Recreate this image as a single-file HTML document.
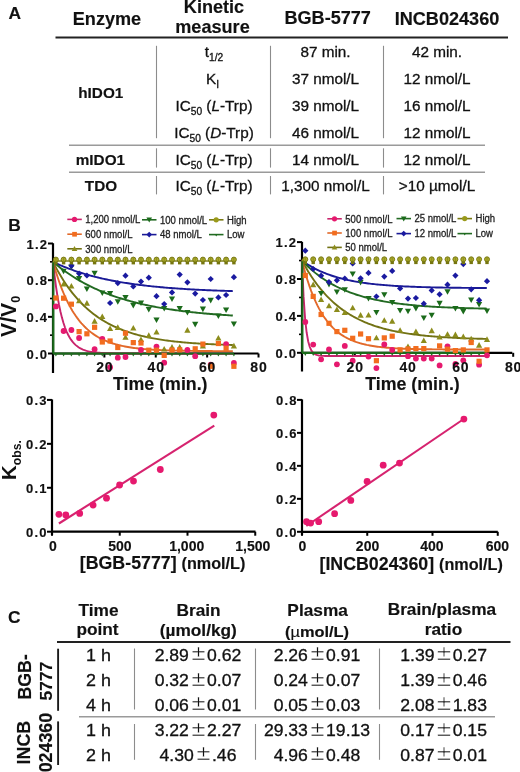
<!DOCTYPE html>
<html><head><meta charset="utf-8"><title>Figure</title>
<style>
html,body{margin:0;padding:0;background:#fff;}
svg{display:block;font-family:"Liberation Sans", sans-serif;}
</style></head>
<body>
<svg width="520" height="772" viewBox="0 0 520 772">
<rect width="520" height="772" fill="#fff"/>
<text x="8.6" y="18.5" font-size="17.4" font-weight="bold" fill="#111" stroke="#111" stroke-width="0.15">A</text>
<text x="107" y="24.8" font-size="18.1" font-weight="bold" text-anchor="middle" fill="#111" stroke="#111" stroke-width="0.15">Enzyme</text>
<text x="214" y="12.7" font-size="18.1" font-weight="bold" text-anchor="middle" fill="#111" stroke="#111" stroke-width="0.15">Kinetic</text>
<text x="212.5" y="33.1" font-size="18.1" font-weight="bold" text-anchor="middle" fill="#111" stroke="#111" stroke-width="0.15">measure</text>
<text x="327.7" y="24.4" font-size="18.1" font-weight="bold" text-anchor="middle" fill="#111" stroke="#111" stroke-width="0.15">BGB-5777</text>
<text x="447" y="24.8" font-size="18.1" font-weight="bold" text-anchor="middle" fill="#111" stroke="#111" stroke-width="0.15">INCB024360</text>
<line x1="55.5" y1="37.6" x2="508" y2="37.6" stroke="#222" stroke-width="2"/>
<text x="214" y="56.9" font-size="15.3" text-anchor="middle" fill="#111" stroke="#111" stroke-width="0.3">t<tspan font-size="10.2" dy="4">1/2</tspan></text>
<text x="325.5" y="56.9" font-size="15.3" text-anchor="middle" fill="#111" stroke="#111" stroke-width="0.3">87 min.</text>
<text x="437" y="56.9" font-size="15.3" text-anchor="middle" fill="#111" stroke="#111" stroke-width="0.3">42 min.</text>
<text x="212.5" y="84.3" font-size="15.3" text-anchor="middle" fill="#111" stroke="#111" stroke-width="0.3">K<tspan font-size="10.2" dy="4">I</tspan></text>
<text x="325.5" y="84.3" font-size="15.3" text-anchor="middle" fill="#111" stroke="#111" stroke-width="0.3">37 nmol/L</text>
<text x="437" y="84.3" font-size="15.3" text-anchor="middle" fill="#111" stroke="#111" stroke-width="0.3">12 nmol/L</text>
<text x="214" y="110.9" font-size="15.3" text-anchor="middle" fill="#111" stroke="#111" stroke-width="0.3">IC<tspan font-size="10.2" dy="4">50</tspan><tspan dy="-4"> (<tspan font-style="italic">L</tspan>-Trp)</tspan></text>
<text x="325.5" y="110.9" font-size="15.3" text-anchor="middle" fill="#111" stroke="#111" stroke-width="0.3">39 nmol/L</text>
<text x="437" y="110.9" font-size="15.3" text-anchor="middle" fill="#111" stroke="#111" stroke-width="0.3">16 nmol/L</text>
<text x="214" y="137.7" font-size="15.3" text-anchor="middle" fill="#111" stroke="#111" stroke-width="0.3">IC<tspan font-size="10.2" dy="4">50</tspan><tspan dy="-4"> (<tspan font-style="italic">D</tspan>-Trp)</tspan></text>
<text x="325.5" y="137.7" font-size="15.3" text-anchor="middle" fill="#111" stroke="#111" stroke-width="0.3">46 nmol/L</text>
<text x="437" y="137.7" font-size="15.3" text-anchor="middle" fill="#111" stroke="#111" stroke-width="0.3">12 nmol/L</text>
<text x="214" y="164.5" font-size="15.3" text-anchor="middle" fill="#111" stroke="#111" stroke-width="0.3">IC<tspan font-size="10.2" dy="4">50</tspan><tspan dy="-4"> (<tspan font-style="italic">L</tspan>-Trp)</tspan></text>
<text x="325.5" y="164.5" font-size="15.3" text-anchor="middle" fill="#111" stroke="#111" stroke-width="0.3">14 nmol/L</text>
<text x="437" y="164.5" font-size="15.3" text-anchor="middle" fill="#111" stroke="#111" stroke-width="0.3">12 nmol/L</text>
<text x="214" y="190.9" font-size="15.3" text-anchor="middle" fill="#111" stroke="#111" stroke-width="0.3">IC<tspan font-size="10.2" dy="4">50</tspan><tspan dy="-4"> (<tspan font-style="italic">L</tspan>-Trp)</tspan></text>
<text x="325.5" y="190.9" font-size="15.3" text-anchor="middle" fill="#111" stroke="#111" stroke-width="0.3">1,300 nmol/L</text>
<text x="437" y="190.9" font-size="15.3" text-anchor="middle" fill="#111" stroke="#111" stroke-width="0.3">&gt;10 µmol/L</text>
<text x="100.8" y="97.6" font-size="15.3" font-weight="bold" text-anchor="middle" fill="#111" stroke="#111" stroke-width="0.15">hIDO1</text>
<text x="100.4" y="164.6" font-size="15.3" font-weight="bold" text-anchor="middle" fill="#111" stroke="#111" stroke-width="0.15">mIDO1</text>
<text x="101" y="191.2" font-size="15.3" font-weight="bold" text-anchor="middle" fill="#111" stroke="#111" stroke-width="0.15">TDO</text>
<line x1="69" y1="145.3" x2="485" y2="145.3" stroke="#9a9a9a" stroke-width="1.4"/>
<line x1="69" y1="172.2" x2="485" y2="172.2" stroke="#9a9a9a" stroke-width="1.4"/>
<line x1="156.5" y1="45.8" x2="156.5" y2="138.2" stroke="#8c8c8c" stroke-width="1.1"/>
<line x1="156.5" y1="148.3" x2="156.5" y2="167.6" stroke="#8c8c8c" stroke-width="1.1"/>
<line x1="156.5" y1="176" x2="156.5" y2="194.4" stroke="#8c8c8c" stroke-width="1.1"/>
<line x1="270.5" y1="45.8" x2="270.5" y2="138.2" stroke="#8c8c8c" stroke-width="1.1"/>
<line x1="270.5" y1="148.3" x2="270.5" y2="167.6" stroke="#8c8c8c" stroke-width="1.1"/>
<line x1="270.5" y1="176" x2="270.5" y2="194.4" stroke="#8c8c8c" stroke-width="1.1"/>
<line x1="383.5" y1="45.8" x2="383.5" y2="138.2" stroke="#8c8c8c" stroke-width="1.1"/>
<line x1="383.5" y1="148.3" x2="383.5" y2="167.6" stroke="#8c8c8c" stroke-width="1.1"/>
<line x1="383.5" y1="176" x2="383.5" y2="194.4" stroke="#8c8c8c" stroke-width="1.1"/>
<text x="8.3" y="230.5" font-size="17.4" font-weight="bold" fill="#111" stroke="#111" stroke-width="0.15">B</text>
<line x1="67.3" y1="219.4" x2="81.8" y2="219.4" stroke="#c9246c" stroke-width="1.6"/>
<circle cx="74.5" cy="219.4" r="2.61" fill="#e6196e"/>
<text transform="translate(85.3,223.20000000000002) scale(0.9,1)" font-size="10.6" fill="#222" stroke="#222" stroke-width="0.3">1,200 nmol/L</text>
<line x1="67.3" y1="234.2" x2="81.8" y2="234.2" stroke="#e2692a" stroke-width="1.6"/>
<rect x="72.2" y="231.9" width="4.7" height="4.7" fill="#f26d1f"/>
<text transform="translate(85.3,238.0) scale(0.9,1)" font-size="10.6" fill="#222" stroke="#222" stroke-width="0.3">600 nmol/L</text>
<line x1="67.3" y1="248.8" x2="81.8" y2="248.8" stroke="#727214" stroke-width="1.6"/>
<path d="M74.5,246.0L77.3,251.0L71.7,251.0Z" fill="#8c8c1c"/>
<text transform="translate(85.3,252.60000000000002) scale(0.9,1)" font-size="10.6" fill="#222" stroke="#222" stroke-width="0.3">300 nmol/L</text>
<line x1="142" y1="219.8" x2="156.5" y2="219.8" stroke="#226a22" stroke-width="1.6"/>
<path d="M149.2,222.6L152.0,217.6L146.4,217.6Z" fill="#1b6b1b"/>
<text transform="translate(160,223.60000000000002) scale(0.9,1)" font-size="10.6" fill="#222" stroke="#222" stroke-width="0.3">100 nmol/L</text>
<line x1="142" y1="234.6" x2="156.5" y2="234.6" stroke="#1a1a96" stroke-width="1.6"/>
<path d="M149.2,231.8L152.0,234.6L149.2,237.4L146.4,234.6Z" fill="#1a1aa0"/>
<text transform="translate(160,238.4) scale(0.9,1)" font-size="10.6" fill="#222" stroke="#222" stroke-width="0.3">48 nmol/L</text>
<line x1="209" y1="219.8" x2="223.5" y2="219.8" stroke="#7a7a12" stroke-width="1.6"/>
<circle cx="216.2" cy="219.8" r="2.6" fill="#9a9a1a"/>
<text transform="translate(227,223.60000000000002) scale(0.9,1)" font-size="10.6" fill="#222" stroke="#222" stroke-width="0.3">High</text>
<line x1="209" y1="234.6" x2="223.5" y2="234.6" stroke="#226a22" stroke-width="1.6"/>
<path d="M216.2,236.5L217.6,234.0L214.8,234.0Z" fill="#1b6b1b"/>
<text transform="translate(227,238.4) scale(0.9,1)" font-size="10.6" fill="#222" stroke="#222" stroke-width="0.3">Low</text>
<line x1="53.0" y1="243.19599999999997" x2="53.0" y2="373" stroke="#000" stroke-width="2.2"/>
<line x1="48.0" y1="353.5" x2="53.0" y2="353.5" stroke="#000" stroke-width="2"/>
<line x1="48.0" y1="316.832" x2="53.0" y2="316.832" stroke="#000" stroke-width="2"/>
<line x1="48.0" y1="280.164" x2="53.0" y2="280.164" stroke="#000" stroke-width="2"/>
<line x1="48.0" y1="243.49599999999998" x2="53.0" y2="243.49599999999998" stroke="#000" stroke-width="2"/>
<line x1="50.0" y1="335.166" x2="53.0" y2="335.166" stroke="#000" stroke-width="1.6"/>
<line x1="50.0" y1="298.498" x2="53.0" y2="298.498" stroke="#000" stroke-width="1.6"/>
<line x1="50.0" y1="261.83" x2="53.0" y2="261.83" stroke="#000" stroke-width="1.6"/>
<line x1="53.0" y1="353.5" x2="258.5" y2="353.5" stroke="#000" stroke-width="2.2"/>
<line x1="104.38" y1="353.5" x2="104.38" y2="357.5" stroke="#000" stroke-width="2"/>
<line x1="155.76" y1="353.5" x2="155.76" y2="357.5" stroke="#000" stroke-width="2"/>
<line x1="207.14" y1="353.5" x2="207.14" y2="357.5" stroke="#000" stroke-width="2"/>
<line x1="258.52" y1="353.5" x2="258.52" y2="357.5" stroke="#000" stroke-width="2"/>
<polyline points="53.00,261.83 54.50,262.55 56.00,263.25 57.50,263.94 58.99,264.61 60.49,265.26 61.99,265.90 63.49,266.53 64.99,267.14 66.49,267.73 67.99,268.32 69.48,268.89 70.98,269.44 72.48,269.98 73.98,270.52 75.48,271.03 76.98,271.54 78.48,272.04 79.97,272.52 81.47,272.99 82.97,273.45 84.47,273.90 85.97,274.34 87.47,274.77 88.97,275.19 90.46,275.61 91.96,276.01 93.46,276.40 94.96,276.78 96.46,277.15 97.96,277.52 99.46,277.88 100.95,278.23 102.45,278.57 103.95,278.90 105.45,279.22 106.95,279.54 108.45,279.85 109.95,280.16 111.44,280.45 112.94,280.74 114.44,281.02 115.94,281.30 117.44,281.57 118.94,281.83 120.44,282.09 121.93,282.34 123.43,282.59 124.93,282.83 126.43,283.06 127.93,283.29 129.43,283.52 130.93,283.73 132.42,283.95 133.92,284.16 135.42,284.36 136.92,284.56 138.42,284.75 139.92,284.94 141.42,285.13 142.91,285.31 144.41,285.49 145.91,285.66 147.41,285.83 148.91,286.00 150.41,286.16 151.91,286.32 153.41,286.47 154.90,286.62 156.40,286.77 157.90,286.91 159.40,287.05 160.90,287.19 162.40,287.32 163.90,287.45 165.39,287.58 166.89,287.71 168.39,287.83 169.89,287.95 171.39,288.06 172.89,288.18 174.39,288.29 175.88,288.40 177.38,288.50 178.88,288.61 180.38,288.71 181.88,288.81 183.38,288.90 184.88,289.00 186.37,289.09 187.87,289.18 189.37,289.27 190.87,289.36 192.37,289.44 193.87,289.52 195.37,289.60 196.86,289.68 198.36,289.76 199.86,289.83 201.36,289.90 202.86,289.98 204.36,290.05 205.86,290.11 207.35,290.18 208.85,290.24 210.35,290.31 211.85,290.37 213.35,290.43 214.85,290.49 216.35,290.55 217.84,290.60 219.34,290.66 220.84,290.71 222.34,290.77 223.84,290.82 225.34,290.87 226.84,290.92 228.33,290.97 229.83,291.01 231.33,291.06 232.83,291.10" fill="none" stroke="#1a1a96" stroke-width="1.9"/>
<polyline points="53.00,261.83 54.50,263.10 56.00,264.33 57.50,265.55 58.99,266.73 60.49,267.89 61.99,269.02 63.49,270.13 64.99,271.21 66.49,272.28 67.99,273.31 69.48,274.33 70.98,275.32 72.48,276.29 73.98,277.24 75.48,278.17 76.98,279.07 78.48,279.96 79.97,280.83 81.47,281.68 82.97,282.51 84.47,283.32 85.97,284.12 87.47,284.90 88.97,285.66 90.46,286.40 91.96,287.13 93.46,287.84 94.96,288.54 96.46,289.22 97.96,289.88 99.46,290.53 100.95,291.17 102.45,291.79 103.95,292.40 105.45,293.00 106.95,293.58 108.45,294.15 109.95,294.71 111.44,295.25 112.94,295.79 114.44,296.31 115.94,296.82 117.44,297.32 118.94,297.81 120.44,298.28 121.93,298.75 123.43,299.21 124.93,299.65 126.43,300.09 127.93,300.52 129.43,300.94 130.93,301.34 132.42,301.74 133.92,302.14 135.42,302.52 136.92,302.89 138.42,303.26 139.92,303.62 141.42,303.97 142.91,304.31 144.41,304.64 145.91,304.97 147.41,305.29 148.91,305.60 150.41,305.91 151.91,306.21 153.41,306.50 154.90,306.79 156.40,307.07 157.90,307.34 159.40,307.61 160.90,307.88 162.40,308.13 163.90,308.38 165.39,308.63 166.89,308.87 168.39,309.10 169.89,309.33 171.39,309.56 172.89,309.78 174.39,309.99 175.88,310.20 177.38,310.41 178.88,310.61 180.38,310.81 181.88,311.00 183.38,311.19 184.88,311.37 186.37,311.55 187.87,311.73 189.37,311.90 190.87,312.07 192.37,312.23 193.87,312.39 195.37,312.55 196.86,312.71 198.36,312.86 199.86,313.00 201.36,313.15 202.86,313.29 204.36,313.43 205.86,313.56 207.35,313.69 208.85,313.82 210.35,313.95 211.85,314.07 213.35,314.19 214.85,314.31 216.35,314.43 217.84,314.54 219.34,314.65 220.84,314.76 222.34,314.86 223.84,314.97 225.34,315.07 226.84,315.17 228.33,315.26 229.83,315.36 231.33,315.45 232.83,315.54" fill="none" stroke="#226a22" stroke-width="1.9"/>
<polyline points="53.00,261.83 54.50,264.78 56.00,267.62 57.50,270.37 58.99,273.02 60.49,275.58 61.99,278.04 63.49,280.42 64.99,282.72 66.49,284.94 67.99,287.08 69.48,289.15 70.98,291.14 72.48,293.06 73.98,294.92 75.48,296.71 76.98,298.44 78.48,300.11 79.97,301.72 81.47,303.27 82.97,304.77 84.47,306.22 85.97,307.62 87.47,308.96 88.97,310.26 90.46,311.52 91.96,312.73 93.46,313.90 94.96,315.03 96.46,316.12 97.96,317.17 99.46,318.18 100.95,319.16 102.45,320.10 103.95,321.01 105.45,321.89 106.95,322.74 108.45,323.56 109.95,324.35 111.44,325.11 112.94,325.85 114.44,326.56 115.94,327.24 117.44,327.91 118.94,328.54 120.44,329.16 121.93,329.75 123.43,330.33 124.93,330.88 126.43,331.42 127.93,331.93 129.43,332.43 130.93,332.91 132.42,333.37 133.92,333.82 135.42,334.25 136.92,334.67 138.42,335.07 139.92,335.46 141.42,335.83 142.91,336.19 144.41,336.54 145.91,336.88 147.41,337.20 148.91,337.52 150.41,337.82 151.91,338.11 153.41,338.39 154.90,338.66 156.40,338.93 157.90,339.18 159.40,339.42 160.90,339.66 162.40,339.89 163.90,340.11 165.39,340.32 166.89,340.52 168.39,340.72 169.89,340.91 171.39,341.09 172.89,341.27 174.39,341.44 175.88,341.61 177.38,341.77 178.88,341.92 180.38,342.07 181.88,342.21 183.38,342.35 184.88,342.48 186.37,342.61 187.87,342.74 189.37,342.86 190.87,342.97 192.37,343.08 193.87,343.19 195.37,343.30 196.86,343.40 198.36,343.49 199.86,343.59 201.36,343.68 202.86,343.76 204.36,343.85 205.86,343.93 207.35,344.01 208.85,344.08 210.35,344.16 211.85,344.23 213.35,344.29 214.85,344.36 216.35,344.42 217.84,344.48 219.34,344.54 220.84,344.60 222.34,344.65 223.84,344.71 225.34,344.76 226.84,344.81 228.33,344.85 229.83,344.90 231.33,344.94 232.83,344.99" fill="none" stroke="#727214" stroke-width="1.9"/>
<polyline points="53.00,261.83 54.50,267.14 56.00,272.13 57.50,276.83 58.99,281.25 60.49,285.41 61.99,289.32 63.49,292.99 64.99,296.45 66.49,299.71 67.99,302.77 69.48,305.64 70.98,308.35 72.48,310.90 73.98,313.29 75.48,315.54 76.98,317.66 78.48,319.66 79.97,321.53 81.47,323.29 82.97,324.95 84.47,326.51 85.97,327.98 87.47,329.36 88.97,330.66 90.46,331.88 91.96,333.03 93.46,334.11 94.96,335.12 96.46,336.08 97.96,336.98 99.46,337.82 100.95,338.62 102.45,339.37 103.95,340.07 105.45,340.73 106.95,341.35 108.45,341.94 109.95,342.49 111.44,343.01 112.94,343.50 114.44,343.95 115.94,344.38 117.44,344.79 118.94,345.17 120.44,345.53 121.93,345.87 123.43,346.18 124.93,346.48 126.43,346.76 127.93,347.03 129.43,347.28 130.93,347.51 132.42,347.73 133.92,347.94 135.42,348.13 136.92,348.31 138.42,348.49 139.92,348.65 141.42,348.80 142.91,348.94 144.41,349.08 145.91,349.20 147.41,349.32 148.91,349.43 150.41,349.54 151.91,349.64 153.41,349.73 154.90,349.82 156.40,349.90 157.90,349.98 159.40,350.05 160.90,350.12 162.40,350.19 163.90,350.25 165.39,350.30 166.89,350.36 168.39,350.41 169.89,350.46 171.39,350.50 172.89,350.54 174.39,350.58 175.88,350.62 177.38,350.65 178.88,350.69 180.38,350.72 181.88,350.75 183.38,350.77 184.88,350.80 186.37,350.82 187.87,350.85 189.37,350.87 190.87,350.89 192.37,350.91 193.87,350.93 195.37,350.94 196.86,350.96 198.36,350.97 199.86,350.99 201.36,351.00 202.86,351.01 204.36,351.02 205.86,351.04 207.35,351.05 208.85,351.06 210.35,351.06 211.85,351.07 213.35,351.08 214.85,351.09 216.35,351.10 217.84,351.10 219.34,351.11 220.84,351.11 222.34,351.12 223.84,351.13 225.34,351.13 226.84,351.13 228.33,351.14 229.83,351.14 231.33,351.15 232.83,351.15" fill="none" stroke="#e2692a" stroke-width="1.9"/>
<polyline points="53.00,261.83 54.50,275.19 56.00,286.60 57.50,296.35 58.99,304.68 60.49,311.79 61.99,317.87 63.49,323.06 64.99,327.50 66.49,331.29 67.99,334.52 69.48,337.29 70.98,339.65 72.48,341.67 73.98,343.39 75.48,344.87 76.98,346.12 78.48,347.20 79.97,348.12 81.47,348.90 82.97,349.57 84.47,350.14 85.97,350.63 87.47,351.05 88.97,351.41 90.46,351.71 91.96,351.97 93.46,352.20 94.96,352.39 96.46,352.55 97.96,352.69 99.46,352.81 100.95,352.91 102.45,352.99 103.95,353.07 105.45,353.13 106.95,353.18 108.45,353.23 109.95,353.27 111.44,353.30 112.94,353.33 114.44,353.36 115.94,353.38 117.44,353.40 118.94,353.41 120.44,353.42 121.93,353.43 123.43,353.44 124.93,353.45 126.43,353.46 127.93,353.47 129.43,353.47 130.93,353.47 132.42,353.48 133.92,353.48 135.42,353.48 136.92,353.49 138.42,353.49 139.92,353.49 141.42,353.49 142.91,353.49 144.41,353.49 145.91,353.49 147.41,353.50 148.91,353.50 150.41,353.50 151.91,353.50 153.41,353.50 154.90,353.50 156.40,353.50 157.90,353.50 159.40,353.50 160.90,353.50 162.40,353.50 163.90,353.50 165.39,353.50 166.89,353.50 168.39,353.50 169.89,353.50 171.39,353.50 172.89,353.50 174.39,353.50 175.88,353.50 177.38,353.50 178.88,353.50 180.38,353.50 181.88,353.50 183.38,353.50 184.88,353.50 186.37,353.50 187.87,353.50 189.37,353.50 190.87,353.50 192.37,353.50 193.87,353.50 195.37,353.50 196.86,353.50 198.36,353.50 199.86,353.50 201.36,353.50 202.86,353.50 204.36,353.50 205.86,353.50 207.35,353.50 208.85,353.50 210.35,353.50 211.85,353.50 213.35,353.50 214.85,353.50 216.35,353.50 217.84,353.50 219.34,353.50 220.84,353.50 222.34,353.50 223.84,353.50 225.34,353.50 226.84,353.50 228.33,353.50 229.83,353.50 231.33,353.50 232.83,353.50" fill="none" stroke="#c9246c" stroke-width="1.9"/>
<line x1="53.3" y1="261.83" x2="53.3" y2="353.5" stroke="#1b6b1b" stroke-width="2.2"/>
<line x1="53.0" y1="353.5" x2="233.87400000000002" y2="353.5" stroke="#1b6b1b" stroke-width="2.2"/>
<path d="M55.9,356.6L57.2,354.3L54.6,354.3Z" fill="#1b6b1b"/>
<path d="M63.6,356.6L64.9,354.3L62.3,354.3Z" fill="#1b6b1b"/>
<path d="M71.4,356.6L72.7,354.3L70.1,354.3Z" fill="#1b6b1b"/>
<path d="M79.1,356.6L80.4,354.3L77.8,354.3Z" fill="#1b6b1b"/>
<path d="M86.9,356.6L88.2,354.3L85.5,354.3Z" fill="#1b6b1b"/>
<path d="M94.6,356.6L95.9,354.3L93.3,354.3Z" fill="#1b6b1b"/>
<path d="M102.3,356.6L103.6,354.3L101.0,354.3Z" fill="#1b6b1b"/>
<path d="M110.1,356.6L111.4,354.3L108.8,354.3Z" fill="#1b6b1b"/>
<path d="M117.8,356.6L119.1,354.3L116.5,354.3Z" fill="#1b6b1b"/>
<path d="M125.5,356.6L126.8,354.3L124.2,354.3Z" fill="#1b6b1b"/>
<path d="M133.3,356.6L134.6,354.3L132.0,354.3Z" fill="#1b6b1b"/>
<path d="M141.0,356.6L142.3,354.3L139.7,354.3Z" fill="#1b6b1b"/>
<path d="M148.8,356.6L150.1,354.3L147.5,354.3Z" fill="#1b6b1b"/>
<path d="M156.5,356.6L157.8,354.3L155.2,354.3Z" fill="#1b6b1b"/>
<path d="M164.2,356.6L165.5,354.3L162.9,354.3Z" fill="#1b6b1b"/>
<path d="M172.0,356.6L173.3,354.3L170.7,354.3Z" fill="#1b6b1b"/>
<path d="M179.7,356.6L181.0,354.3L178.4,354.3Z" fill="#1b6b1b"/>
<path d="M187.4,356.6L188.7,354.3L186.1,354.3Z" fill="#1b6b1b"/>
<path d="M195.2,356.6L196.5,354.3L193.9,354.3Z" fill="#1b6b1b"/>
<path d="M202.9,356.6L204.2,354.3L201.6,354.3Z" fill="#1b6b1b"/>
<path d="M210.7,356.6L212.0,354.3L209.4,354.3Z" fill="#1b6b1b"/>
<path d="M218.4,356.6L219.7,354.3L217.1,354.3Z" fill="#1b6b1b"/>
<path d="M226.1,356.6L227.4,354.3L224.8,354.3Z" fill="#1b6b1b"/>
<path d="M233.9,356.6L235.2,354.3L232.6,354.3Z" fill="#1b6b1b"/>
<circle cx="55.9" cy="306.4" r="2.90" fill="#e6196e"/>
<circle cx="63.6" cy="331.0" r="2.90" fill="#e6196e"/>
<circle cx="71.4" cy="330.0" r="2.90" fill="#e6196e"/>
<circle cx="79.1" cy="338.0" r="2.90" fill="#e6196e"/>
<circle cx="94.6" cy="349.2" r="2.90" fill="#e6196e"/>
<circle cx="102.3" cy="339.0" r="2.90" fill="#e6196e"/>
<circle cx="110.1" cy="367.2" r="2.90" fill="#e6196e"/>
<circle cx="117.8" cy="357.7" r="2.90" fill="#e6196e"/>
<circle cx="125.5" cy="357.0" r="2.90" fill="#e6196e"/>
<circle cx="141.0" cy="350.0" r="2.90" fill="#e6196e"/>
<circle cx="156.5" cy="346.6" r="2.90" fill="#e6196e"/>
<circle cx="164.2" cy="362.7" r="2.90" fill="#e6196e"/>
<circle cx="187.4" cy="350.0" r="2.90" fill="#e6196e"/>
<circle cx="195.2" cy="356.2" r="2.90" fill="#e6196e"/>
<circle cx="210.7" cy="364.7" r="2.90" fill="#e6196e"/>
<circle cx="226.1" cy="344.1" r="2.90" fill="#e6196e"/>
<circle cx="233.9" cy="363.0" r="2.90" fill="#e6196e"/>
<path d="M63.6,274.3L66.7,268.7L60.5,268.7Z" fill="#1b6b1b"/>
<path d="M71.4,270.1L74.5,264.5L68.3,264.5Z" fill="#1b6b1b"/>
<path d="M79.1,281.7L82.2,276.1L76.0,276.1Z" fill="#1b6b1b"/>
<path d="M86.9,292.1L90.0,286.5L83.8,286.5Z" fill="#1b6b1b"/>
<path d="M94.6,276.3L97.7,270.7L91.5,270.7Z" fill="#1b6b1b"/>
<path d="M102.3,296.1L105.4,290.5L99.2,290.5Z" fill="#1b6b1b"/>
<path d="M110.1,296.5L113.2,290.9L107.0,290.9Z" fill="#1b6b1b"/>
<path d="M117.8,304.8L120.9,299.2L114.7,299.2Z" fill="#1b6b1b"/>
<path d="M125.5,300.7L128.6,295.1L122.4,295.1Z" fill="#1b6b1b"/>
<path d="M133.3,308.6L136.4,303.0L130.2,303.0Z" fill="#1b6b1b"/>
<path d="M141.0,306.1L144.1,300.5L137.9,300.5Z" fill="#1b6b1b"/>
<path d="M148.8,312.6L151.9,307.0L145.7,307.0Z" fill="#1b6b1b"/>
<path d="M156.5,323.0L159.6,317.4L153.4,317.4Z" fill="#1b6b1b"/>
<path d="M164.2,311.6L167.3,306.0L161.1,306.0Z" fill="#1b6b1b"/>
<path d="M172.0,302.1L175.1,296.5L168.9,296.5Z" fill="#1b6b1b"/>
<path d="M179.7,311.7L182.8,306.1L176.6,306.1Z" fill="#1b6b1b"/>
<path d="M187.4,315.6L190.5,310.0L184.3,310.0Z" fill="#1b6b1b"/>
<path d="M195.2,327.4L198.3,321.8L192.1,321.8Z" fill="#1b6b1b"/>
<path d="M202.9,312.2L206.0,306.6L199.8,306.6Z" fill="#1b6b1b"/>
<path d="M210.7,303.4L213.8,297.8L207.6,297.8Z" fill="#1b6b1b"/>
<path d="M218.4,319.0L221.5,313.4L215.3,313.4Z" fill="#1b6b1b"/>
<path d="M226.1,313.1L229.2,307.5L223.0,307.5Z" fill="#1b6b1b"/>
<path d="M233.9,327.1L237.0,321.5L230.8,321.5Z" fill="#1b6b1b"/>
<path d="M71.4,262.7L74.5,265.8L71.4,268.9L68.3,265.8Z" fill="#1a1aa0"/>
<path d="M79.1,270.5L82.2,273.6L79.1,276.7L76.0,273.6Z" fill="#1a1aa0"/>
<path d="M86.9,272.4L90.0,275.5L86.9,278.6L83.8,275.5Z" fill="#1a1aa0"/>
<path d="M110.1,299.9L113.2,303.0L110.1,306.1L107.0,303.0Z" fill="#1a1aa0"/>
<path d="M117.8,280.0L120.9,283.1L117.8,286.2L114.7,283.1Z" fill="#1a1aa0"/>
<path d="M125.5,272.6L128.6,275.7L125.5,278.8L122.4,275.7Z" fill="#1a1aa0"/>
<path d="M133.3,283.4L136.4,286.5L133.3,289.6L130.2,286.5Z" fill="#1a1aa0"/>
<path d="M141.0,278.5L144.1,281.6L141.0,284.7L137.9,281.6Z" fill="#1a1aa0"/>
<path d="M148.8,274.6L151.9,277.7L148.8,280.8L145.7,277.7Z" fill="#1a1aa0"/>
<path d="M156.5,293.1L159.6,296.2L156.5,299.3L153.4,296.2Z" fill="#1a1aa0"/>
<path d="M164.2,300.9L167.3,304.0L164.2,307.1L161.1,304.0Z" fill="#1a1aa0"/>
<path d="M172.0,289.3L175.1,292.4L172.0,295.5L168.9,292.4Z" fill="#1a1aa0"/>
<path d="M179.7,271.5L182.8,274.6L179.7,277.7L176.6,274.6Z" fill="#1a1aa0"/>
<path d="M187.4,279.2L190.5,282.3L187.4,285.4L184.3,282.3Z" fill="#1a1aa0"/>
<path d="M195.2,290.5L198.3,293.6L195.2,296.7L192.1,293.6Z" fill="#1a1aa0"/>
<path d="M202.9,296.9L206.0,300.0L202.9,303.1L199.8,300.0Z" fill="#1a1aa0"/>
<path d="M210.7,275.9L213.8,279.0L210.7,282.1L207.6,279.0Z" fill="#1a1aa0"/>
<path d="M218.4,294.3L221.5,297.4L218.4,300.5L215.3,297.4Z" fill="#1a1aa0"/>
<path d="M226.1,291.9L229.2,295.0L226.1,298.1L223.0,295.0Z" fill="#1a1aa0"/>
<path d="M233.9,274.1L237.0,277.2L233.9,280.3L230.8,277.2Z" fill="#1a1aa0"/>
<path d="M63.6,280.9L66.7,286.5L60.5,286.5Z" fill="#8c8c1c"/>
<path d="M71.4,282.9L74.5,288.5L68.3,288.5Z" fill="#8c8c1c"/>
<path d="M79.1,297.7L82.2,303.3L76.0,303.3Z" fill="#8c8c1c"/>
<path d="M86.9,300.1L90.0,305.7L83.8,305.7Z" fill="#8c8c1c"/>
<path d="M94.6,318.1L97.7,323.7L91.5,323.7Z" fill="#8c8c1c"/>
<path d="M102.3,313.4L105.4,319.0L99.2,319.0Z" fill="#8c8c1c"/>
<path d="M110.1,325.5L113.2,331.1L107.0,331.1Z" fill="#8c8c1c"/>
<path d="M117.8,324.3L120.9,329.9L114.7,329.9Z" fill="#8c8c1c"/>
<path d="M125.5,334.2L128.6,339.8L122.4,339.8Z" fill="#8c8c1c"/>
<path d="M133.3,324.9L136.4,330.5L130.2,330.5Z" fill="#8c8c1c"/>
<path d="M141.0,336.4L144.1,342.0L137.9,342.0Z" fill="#8c8c1c"/>
<path d="M148.8,332.3L151.9,337.9L145.7,337.9Z" fill="#8c8c1c"/>
<path d="M156.5,328.9L159.6,334.5L153.4,334.5Z" fill="#8c8c1c"/>
<path d="M164.2,345.9L167.3,351.5L161.1,351.5Z" fill="#8c8c1c"/>
<path d="M172.0,344.1L175.1,349.7L168.9,349.7Z" fill="#8c8c1c"/>
<path d="M179.7,344.1L182.8,349.7L176.6,349.7Z" fill="#8c8c1c"/>
<path d="M187.4,327.1L190.5,332.7L184.3,332.7Z" fill="#8c8c1c"/>
<path d="M202.9,342.8L206.0,348.4L199.8,348.4Z" fill="#8c8c1c"/>
<path d="M218.4,334.9L221.5,340.5L215.3,340.5Z" fill="#8c8c1c"/>
<path d="M233.9,342.8L237.0,348.4L230.8,348.4Z" fill="#8c8c1c"/>
<rect x="53.3" y="295.4" width="5.2" height="5.2" fill="#f26d1f"/>
<rect x="61.0" y="295.6" width="5.2" height="5.2" fill="#f26d1f"/>
<rect x="68.8" y="301.6" width="5.2" height="5.2" fill="#f26d1f"/>
<rect x="76.5" y="329.0" width="5.2" height="5.2" fill="#f26d1f"/>
<rect x="84.3" y="331.2" width="5.2" height="5.2" fill="#f26d1f"/>
<rect x="92.0" y="324.7" width="5.2" height="5.2" fill="#f26d1f"/>
<rect x="99.7" y="339.4" width="5.2" height="5.2" fill="#f26d1f"/>
<rect x="107.5" y="338.4" width="5.2" height="5.2" fill="#f26d1f"/>
<rect x="115.2" y="344.9" width="5.2" height="5.2" fill="#f26d1f"/>
<rect x="122.9" y="330.6" width="5.2" height="5.2" fill="#f26d1f"/>
<rect x="130.7" y="340.0" width="5.2" height="5.2" fill="#f26d1f"/>
<rect x="138.4" y="340.4" width="5.2" height="5.2" fill="#f26d1f"/>
<rect x="146.2" y="347.6" width="5.2" height="5.2" fill="#f26d1f"/>
<rect x="153.9" y="347.6" width="5.2" height="5.2" fill="#f26d1f"/>
<rect x="161.6" y="352.8" width="5.2" height="5.2" fill="#f26d1f"/>
<rect x="169.4" y="347.4" width="5.2" height="5.2" fill="#f26d1f"/>
<rect x="177.1" y="347.2" width="5.2" height="5.2" fill="#f26d1f"/>
<rect x="192.6" y="346.2" width="5.2" height="5.2" fill="#f26d1f"/>
<rect x="200.3" y="341.5" width="5.2" height="5.2" fill="#f26d1f"/>
<rect x="208.1" y="363.7" width="5.2" height="5.2" fill="#f26d1f"/>
<rect x="215.8" y="340.9" width="5.2" height="5.2" fill="#f26d1f"/>
<rect x="223.5" y="345.6" width="5.2" height="5.2" fill="#f26d1f"/>
<rect x="231.3" y="363.7" width="5.2" height="5.2" fill="#f26d1f"/>
<line x1="53.0" y1="261.83" x2="55.9" y2="259.6" stroke="#9a9a1a" stroke-width="2"/>
<line x1="55.9" y1="261.0" x2="233.87400000000002" y2="261.0" stroke="#80801a" stroke-width="1.3"/>
<rect x="54.2" y="261.1" width="3.4" height="3.3" fill="#76760f"/>
<circle cx="55.9" cy="259.6" r="2.5" fill="#abab2a" stroke="#727210" stroke-width="0.9"/>
<line x1="55.9" y1="257.8" x2="55.9" y2="261.40000000000003" stroke="#86861a" stroke-width="0.8"/>
<rect x="61.9" y="261.1" width="3.4" height="3.3" fill="#76760f"/>
<circle cx="63.6" cy="259.6" r="2.5" fill="#abab2a" stroke="#727210" stroke-width="0.9"/>
<line x1="63.638" y1="257.8" x2="63.638" y2="261.40000000000003" stroke="#86861a" stroke-width="0.8"/>
<rect x="69.7" y="261.1" width="3.4" height="3.3" fill="#76760f"/>
<circle cx="71.4" cy="259.6" r="2.5" fill="#abab2a" stroke="#727210" stroke-width="0.9"/>
<line x1="71.376" y1="257.8" x2="71.376" y2="261.40000000000003" stroke="#86861a" stroke-width="0.8"/>
<rect x="77.4" y="261.1" width="3.4" height="3.3" fill="#76760f"/>
<circle cx="79.1" cy="259.6" r="2.5" fill="#abab2a" stroke="#727210" stroke-width="0.9"/>
<line x1="79.114" y1="257.8" x2="79.114" y2="261.40000000000003" stroke="#86861a" stroke-width="0.8"/>
<rect x="85.2" y="261.1" width="3.4" height="3.3" fill="#76760f"/>
<circle cx="86.9" cy="259.6" r="2.5" fill="#abab2a" stroke="#727210" stroke-width="0.9"/>
<line x1="86.852" y1="257.8" x2="86.852" y2="261.40000000000003" stroke="#86861a" stroke-width="0.8"/>
<rect x="92.9" y="261.1" width="3.4" height="3.3" fill="#76760f"/>
<circle cx="94.6" cy="259.6" r="2.5" fill="#abab2a" stroke="#727210" stroke-width="0.9"/>
<line x1="94.59" y1="257.8" x2="94.59" y2="261.40000000000003" stroke="#86861a" stroke-width="0.8"/>
<rect x="100.6" y="261.1" width="3.4" height="3.3" fill="#76760f"/>
<circle cx="102.3" cy="259.6" r="2.5" fill="#abab2a" stroke="#727210" stroke-width="0.9"/>
<line x1="102.328" y1="257.8" x2="102.328" y2="261.40000000000003" stroke="#86861a" stroke-width="0.8"/>
<rect x="108.4" y="261.1" width="3.4" height="3.3" fill="#76760f"/>
<circle cx="110.1" cy="259.6" r="2.5" fill="#abab2a" stroke="#727210" stroke-width="0.9"/>
<line x1="110.066" y1="257.8" x2="110.066" y2="261.40000000000003" stroke="#86861a" stroke-width="0.8"/>
<rect x="116.1" y="261.1" width="3.4" height="3.3" fill="#76760f"/>
<circle cx="117.8" cy="259.6" r="2.5" fill="#abab2a" stroke="#727210" stroke-width="0.9"/>
<line x1="117.804" y1="257.8" x2="117.804" y2="261.40000000000003" stroke="#86861a" stroke-width="0.8"/>
<rect x="123.8" y="261.1" width="3.4" height="3.3" fill="#76760f"/>
<circle cx="125.5" cy="259.6" r="2.5" fill="#abab2a" stroke="#727210" stroke-width="0.9"/>
<line x1="125.542" y1="257.8" x2="125.542" y2="261.40000000000003" stroke="#86861a" stroke-width="0.8"/>
<rect x="131.6" y="261.1" width="3.4" height="3.3" fill="#76760f"/>
<circle cx="133.3" cy="259.6" r="2.5" fill="#abab2a" stroke="#727210" stroke-width="0.9"/>
<line x1="133.28" y1="257.8" x2="133.28" y2="261.40000000000003" stroke="#86861a" stroke-width="0.8"/>
<rect x="139.3" y="261.1" width="3.4" height="3.3" fill="#76760f"/>
<circle cx="141.0" cy="259.6" r="2.5" fill="#abab2a" stroke="#727210" stroke-width="0.9"/>
<line x1="141.018" y1="257.8" x2="141.018" y2="261.40000000000003" stroke="#86861a" stroke-width="0.8"/>
<rect x="147.1" y="261.1" width="3.4" height="3.3" fill="#76760f"/>
<circle cx="148.8" cy="259.6" r="2.5" fill="#abab2a" stroke="#727210" stroke-width="0.9"/>
<line x1="148.756" y1="257.8" x2="148.756" y2="261.40000000000003" stroke="#86861a" stroke-width="0.8"/>
<rect x="154.8" y="261.1" width="3.4" height="3.3" fill="#76760f"/>
<circle cx="156.5" cy="259.6" r="2.5" fill="#abab2a" stroke="#727210" stroke-width="0.9"/>
<line x1="156.494" y1="257.8" x2="156.494" y2="261.40000000000003" stroke="#86861a" stroke-width="0.8"/>
<rect x="162.5" y="261.1" width="3.4" height="3.3" fill="#76760f"/>
<circle cx="164.2" cy="259.6" r="2.5" fill="#abab2a" stroke="#727210" stroke-width="0.9"/>
<line x1="164.232" y1="257.8" x2="164.232" y2="261.40000000000003" stroke="#86861a" stroke-width="0.8"/>
<rect x="170.3" y="261.1" width="3.4" height="3.3" fill="#76760f"/>
<circle cx="172.0" cy="259.6" r="2.5" fill="#abab2a" stroke="#727210" stroke-width="0.9"/>
<line x1="171.97" y1="257.8" x2="171.97" y2="261.40000000000003" stroke="#86861a" stroke-width="0.8"/>
<rect x="178.0" y="261.1" width="3.4" height="3.3" fill="#76760f"/>
<circle cx="179.7" cy="259.6" r="2.5" fill="#abab2a" stroke="#727210" stroke-width="0.9"/>
<line x1="179.708" y1="257.8" x2="179.708" y2="261.40000000000003" stroke="#86861a" stroke-width="0.8"/>
<rect x="185.7" y="261.1" width="3.4" height="3.3" fill="#76760f"/>
<circle cx="187.4" cy="259.6" r="2.5" fill="#abab2a" stroke="#727210" stroke-width="0.9"/>
<line x1="187.44600000000003" y1="257.8" x2="187.44600000000003" y2="261.40000000000003" stroke="#86861a" stroke-width="0.8"/>
<rect x="193.5" y="261.1" width="3.4" height="3.3" fill="#76760f"/>
<circle cx="195.2" cy="259.6" r="2.5" fill="#abab2a" stroke="#727210" stroke-width="0.9"/>
<line x1="195.18400000000003" y1="257.8" x2="195.18400000000003" y2="261.40000000000003" stroke="#86861a" stroke-width="0.8"/>
<rect x="201.2" y="261.1" width="3.4" height="3.3" fill="#76760f"/>
<circle cx="202.9" cy="259.6" r="2.5" fill="#abab2a" stroke="#727210" stroke-width="0.9"/>
<line x1="202.92200000000003" y1="257.8" x2="202.92200000000003" y2="261.40000000000003" stroke="#86861a" stroke-width="0.8"/>
<rect x="209.0" y="261.1" width="3.4" height="3.3" fill="#76760f"/>
<circle cx="210.7" cy="259.6" r="2.5" fill="#abab2a" stroke="#727210" stroke-width="0.9"/>
<line x1="210.66000000000003" y1="257.8" x2="210.66000000000003" y2="261.40000000000003" stroke="#86861a" stroke-width="0.8"/>
<rect x="216.7" y="261.1" width="3.4" height="3.3" fill="#76760f"/>
<circle cx="218.4" cy="259.6" r="2.5" fill="#abab2a" stroke="#727210" stroke-width="0.9"/>
<line x1="218.39800000000002" y1="257.8" x2="218.39800000000002" y2="261.40000000000003" stroke="#86861a" stroke-width="0.8"/>
<rect x="224.4" y="261.1" width="3.4" height="3.3" fill="#76760f"/>
<circle cx="226.1" cy="259.6" r="2.5" fill="#abab2a" stroke="#727210" stroke-width="0.9"/>
<line x1="226.13600000000002" y1="257.8" x2="226.13600000000002" y2="261.40000000000003" stroke="#86861a" stroke-width="0.8"/>
<rect x="232.2" y="261.1" width="3.4" height="3.3" fill="#76760f"/>
<circle cx="233.9" cy="259.6" r="2.5" fill="#abab2a" stroke="#727210" stroke-width="0.9"/>
<line x1="233.87400000000002" y1="257.8" x2="233.87400000000002" y2="261.40000000000003" stroke="#86861a" stroke-width="0.8"/>
<text x="47" y="248.59599999999998" font-size="13.0" font-weight="bold" text-anchor="end" textLength="20.5" lengthAdjust="spacing" fill="#111" stroke="#111" stroke-width="0.15">1.2</text>
<text x="47" y="285.264" font-size="13.0" font-weight="bold" text-anchor="end" textLength="20.5" lengthAdjust="spacing" fill="#111" stroke="#111" stroke-width="0.15">0.8</text>
<text x="47" y="321.932" font-size="13.0" font-weight="bold" text-anchor="end" textLength="20.5" lengthAdjust="spacing" fill="#111" stroke="#111" stroke-width="0.15">0.4</text>
<text x="47" y="358.6" font-size="13.0" font-weight="bold" text-anchor="end" textLength="20.5" lengthAdjust="spacing" fill="#111" stroke="#111" stroke-width="0.15">0.0</text>
<text x="104.38" y="372.0" font-size="14" font-weight="bold" text-anchor="middle" textLength="16.4" lengthAdjust="spacing" fill="#111" stroke="#111" stroke-width="0.15">20</text>
<text x="155.76" y="372.0" font-size="14" font-weight="bold" text-anchor="middle" textLength="16.4" lengthAdjust="spacing" fill="#111" stroke="#111" stroke-width="0.15">40</text>
<text x="207.14" y="372.0" font-size="14" font-weight="bold" text-anchor="middle" textLength="16.4" lengthAdjust="spacing" fill="#111" stroke="#111" stroke-width="0.15">60</text>
<text x="258.52" y="372.0" font-size="14" font-weight="bold" text-anchor="middle" textLength="16.4" lengthAdjust="spacing" fill="#111" stroke="#111" stroke-width="0.15">80</text>
<text x="160.3" y="389.8" font-size="17.8" font-weight="bold" text-anchor="middle" fill="#111" stroke="#111" stroke-width="0.15">Time (min.)</text>
<text transform="translate(15.6,337) rotate(-90)" font-size="21.2" font-weight="bold" fill="#111">V/V<tspan font-size="12.5" dy="4">0</tspan></text>
<line x1="327.3" y1="218.8" x2="341.8" y2="218.8" stroke="#c9246c" stroke-width="1.6"/>
<circle cx="334.5" cy="218.8" r="2.61" fill="#e6196e"/>
<text transform="translate(345.3,222.60000000000002) scale(0.9,1)" font-size="10.6" fill="#222" stroke="#222" stroke-width="0.3">500 nmol/L</text>
<line x1="327.3" y1="233.0" x2="341.8" y2="233.0" stroke="#e2692a" stroke-width="1.6"/>
<rect x="332.2" y="230.7" width="4.7" height="4.7" fill="#f26d1f"/>
<text transform="translate(345.3,236.8) scale(0.9,1)" font-size="10.6" fill="#222" stroke="#222" stroke-width="0.3">100 nmol/L</text>
<line x1="327.3" y1="247.4" x2="341.8" y2="247.4" stroke="#727214" stroke-width="1.6"/>
<path d="M334.5,244.6L337.3,249.6L331.7,249.6Z" fill="#8c8c1c"/>
<text transform="translate(345.3,251.20000000000002) scale(0.9,1)" font-size="10.6" fill="#222" stroke="#222" stroke-width="0.3">50 nmol/L</text>
<line x1="396.5" y1="218.6" x2="411.0" y2="218.6" stroke="#226a22" stroke-width="1.6"/>
<path d="M403.7,221.4L406.5,216.4L400.9,216.4Z" fill="#1b6b1b"/>
<text transform="translate(414.5,222.4) scale(0.9,1)" font-size="10.6" fill="#222" stroke="#222" stroke-width="0.3">25 nmol/L</text>
<line x1="396.5" y1="233.6" x2="411.0" y2="233.6" stroke="#1a1a96" stroke-width="1.6"/>
<path d="M403.7,230.8L406.5,233.6L403.7,236.4L400.9,233.6Z" fill="#1a1aa0"/>
<text transform="translate(414.5,237.4) scale(0.9,1)" font-size="10.6" fill="#222" stroke="#222" stroke-width="0.3">12 nmol/L</text>
<line x1="457.5" y1="218.6" x2="472.0" y2="218.6" stroke="#7a7a12" stroke-width="1.6"/>
<circle cx="464.7" cy="218.6" r="2.6" fill="#9a9a1a"/>
<text transform="translate(475.5,222.4) scale(0.9,1)" font-size="10.6" fill="#222" stroke="#222" stroke-width="0.3">High</text>
<line x1="457.5" y1="233.6" x2="472.0" y2="233.6" stroke="#226a22" stroke-width="1.6"/>
<path d="M464.7,235.5L466.1,233.0L463.3,233.0Z" fill="#1b6b1b"/>
<text transform="translate(475.5,237.4) scale(0.9,1)" font-size="10.6" fill="#222" stroke="#222" stroke-width="0.3">Low</text>
<line x1="302.0" y1="241.8" x2="302.0" y2="371.5" stroke="#000" stroke-width="2.2"/>
<line x1="297.0" y1="352.8" x2="302.0" y2="352.8" stroke="#000" stroke-width="2"/>
<line x1="297.0" y1="315.90000000000003" x2="302.0" y2="315.90000000000003" stroke="#000" stroke-width="2"/>
<line x1="297.0" y1="279.0" x2="302.0" y2="279.0" stroke="#000" stroke-width="2"/>
<line x1="297.0" y1="242.10000000000002" x2="302.0" y2="242.10000000000002" stroke="#000" stroke-width="2"/>
<line x1="299.0" y1="334.35" x2="302.0" y2="334.35" stroke="#000" stroke-width="1.6"/>
<line x1="299.0" y1="297.45" x2="302.0" y2="297.45" stroke="#000" stroke-width="1.6"/>
<line x1="299.0" y1="260.55" x2="302.0" y2="260.55" stroke="#000" stroke-width="1.6"/>
<line x1="302.0" y1="352.8" x2="512.3" y2="352.8" stroke="#000" stroke-width="2.2"/>
<line x1="354.8" y1="352.8" x2="354.8" y2="356.8" stroke="#000" stroke-width="2"/>
<line x1="407.6" y1="352.8" x2="407.6" y2="356.8" stroke="#000" stroke-width="2"/>
<line x1="460.4" y1="352.8" x2="460.4" y2="356.8" stroke="#000" stroke-width="2"/>
<line x1="513.2" y1="352.8" x2="513.2" y2="356.8" stroke="#000" stroke-width="2"/>
<polyline points="302.00,260.55 303.54,261.66 305.08,262.72 306.62,263.74 308.16,264.72 309.70,265.66 311.24,266.56 312.78,267.43 314.32,268.26 315.86,269.06 317.40,269.83 318.94,270.56 320.48,271.27 322.02,271.95 323.56,272.60 325.10,273.23 326.64,273.83 328.18,274.40 329.72,274.95 331.26,275.49 332.80,276.00 334.34,276.48 335.88,276.95 337.42,277.41 338.96,277.84 340.50,278.25 342.04,278.65 343.58,279.04 345.12,279.40 346.66,279.76 348.20,280.10 349.74,280.42 351.28,280.73 352.82,281.03 354.36,281.32 355.90,281.60 357.44,281.86 358.98,282.12 360.52,282.36 362.06,282.60 363.60,282.82 365.14,283.04 366.68,283.24 368.22,283.44 369.76,283.64 371.30,283.82 372.84,284.00 374.38,284.16 375.92,284.33 377.46,284.48 379.00,284.63 380.54,284.78 382.08,284.91 383.62,285.05 385.16,285.17 386.70,285.30 388.24,285.41 389.78,285.53 391.32,285.63 392.86,285.74 394.40,285.84 395.94,285.93 397.48,286.02 399.02,286.11 400.56,286.20 402.10,286.28 403.64,286.36 405.18,286.43 406.72,286.50 408.26,286.57 409.80,286.64 411.34,286.70 412.88,286.76 414.42,286.82 415.96,286.88 417.50,286.93 419.04,286.98 420.58,287.03 422.12,287.08 423.66,287.13 425.20,287.17 426.74,287.21 428.28,287.25 429.82,287.29 431.36,287.33 432.90,287.36 434.44,287.40 435.98,287.43 437.52,287.46 439.06,287.49 440.60,287.52 442.14,287.55 443.68,287.58 445.22,287.60 446.76,287.63 448.30,287.65 449.84,287.68 451.38,287.70 452.92,287.72 454.46,287.74 456.00,287.76 457.54,287.78 459.08,287.80 460.62,287.81 462.16,287.83 463.70,287.84 465.24,287.86 466.78,287.87 468.32,287.89 469.86,287.90 471.40,287.91 472.94,287.93 474.48,287.94 476.02,287.95 477.56,287.96 479.10,287.97 480.64,287.98 482.18,287.99 483.72,288.00 485.26,288.01 486.80,288.02" fill="none" stroke="#1a1a96" stroke-width="1.9"/>
<polyline points="302.00,260.55 303.54,262.18 305.08,263.75 306.62,265.27 308.16,266.74 309.70,268.16 311.24,269.53 312.78,270.86 314.32,272.14 315.86,273.38 317.40,274.58 318.94,275.74 320.48,276.86 322.02,277.95 323.56,279.00 325.10,280.01 326.64,280.99 328.18,281.94 329.72,282.85 331.26,283.73 332.80,284.59 334.34,285.42 335.88,286.22 337.42,286.99 338.96,287.74 340.50,288.46 342.04,289.16 343.58,289.83 345.12,290.48 346.66,291.11 348.20,291.72 349.74,292.31 351.28,292.88 352.82,293.43 354.36,293.97 355.90,294.48 357.44,294.98 358.98,295.46 360.52,295.93 362.06,296.38 363.60,296.81 365.14,297.23 366.68,297.64 368.22,298.03 369.76,298.41 371.30,298.78 372.84,299.13 374.38,299.47 375.92,299.81 377.46,300.13 379.00,300.44 380.54,300.74 382.08,301.03 383.62,301.31 385.16,301.58 386.70,301.84 388.24,302.09 389.78,302.34 391.32,302.57 392.86,302.80 394.40,303.02 395.94,303.23 397.48,303.44 399.02,303.64 400.56,303.83 402.10,304.02 403.64,304.20 405.18,304.38 406.72,304.54 408.26,304.71 409.80,304.86 411.34,305.02 412.88,305.16 414.42,305.31 415.96,305.44 417.50,305.58 419.04,305.71 420.58,305.83 422.12,305.95 423.66,306.07 425.20,306.18 426.74,306.29 428.28,306.39 429.82,306.49 431.36,306.59 432.90,306.69 434.44,306.78 435.98,306.87 437.52,306.95 439.06,307.04 440.60,307.12 442.14,307.19 443.68,307.27 445.22,307.34 446.76,307.41 448.30,307.48 449.84,307.54 451.38,307.61 452.92,307.67 454.46,307.73 456.00,307.78 457.54,307.84 459.08,307.89 460.62,307.94 462.16,307.99 463.70,308.04 465.24,308.09 466.78,308.13 468.32,308.18 469.86,308.22 471.40,308.26 472.94,308.30 474.48,308.34 476.02,308.37 477.56,308.41 479.10,308.44 480.64,308.48 482.18,308.51 483.72,308.54 485.26,308.57 486.80,308.60" fill="none" stroke="#226a22" stroke-width="1.9"/>
<polyline points="302.00,260.55 303.54,263.41 305.08,266.17 306.62,268.83 308.16,271.40 309.70,273.87 311.24,276.25 312.78,278.55 314.32,280.76 315.86,282.89 317.40,284.95 318.94,286.93 320.48,288.84 322.02,290.68 323.56,292.46 325.10,294.17 326.64,295.82 328.18,297.41 329.72,298.94 331.26,300.42 332.80,301.84 334.34,303.22 335.88,304.54 337.42,305.81 338.96,307.04 340.50,308.23 342.04,309.37 343.58,310.47 345.12,311.53 346.66,312.56 348.20,313.54 349.74,314.49 351.28,315.41 352.82,316.29 354.36,317.14 355.90,317.96 357.44,318.76 358.98,319.52 360.52,320.25 362.06,320.96 363.60,321.64 365.14,322.30 366.68,322.94 368.22,323.55 369.76,324.14 371.30,324.71 372.84,325.25 374.38,325.78 375.92,326.29 377.46,326.78 379.00,327.25 380.54,327.71 382.08,328.15 383.62,328.57 385.16,328.98 386.70,329.37 388.24,329.75 389.78,330.12 391.32,330.47 392.86,330.81 394.40,331.14 395.94,331.45 397.48,331.76 399.02,332.05 400.56,332.33 402.10,332.61 403.64,332.87 405.18,333.12 406.72,333.37 408.26,333.60 409.80,333.83 411.34,334.05 412.88,334.26 414.42,334.46 415.96,334.66 417.50,334.84 419.04,335.03 420.58,335.20 422.12,335.37 423.66,335.53 425.20,335.69 426.74,335.84 428.28,335.99 429.82,336.13 431.36,336.26 432.90,336.39 434.44,336.52 435.98,336.64 437.52,336.76 439.06,336.87 440.60,336.98 442.14,337.09 443.68,337.19 445.22,337.28 446.76,337.38 448.30,337.47 449.84,337.56 451.38,337.64 452.92,337.72 454.46,337.80 456.00,337.87 457.54,337.95 459.08,338.02 460.62,338.08 462.16,338.15 463.70,338.21 465.24,338.27 466.78,338.33 468.32,338.39 469.86,338.44 471.40,338.49 472.94,338.54 474.48,338.59 476.02,338.64 477.56,338.68 479.10,338.73 480.64,338.77 482.18,338.81 483.72,338.85 485.26,338.88 486.80,338.92" fill="none" stroke="#727214" stroke-width="1.9"/>
<polyline points="302.00,260.55 303.54,266.57 305.08,272.18 306.62,277.41 308.16,282.29 309.70,286.84 311.24,291.08 312.78,295.03 314.32,298.72 315.86,302.16 317.40,305.36 318.94,308.35 320.48,311.14 322.02,313.74 323.56,316.16 325.10,318.42 326.64,320.53 328.18,322.49 329.72,324.32 331.26,326.03 332.80,327.62 334.34,329.10 335.88,330.49 337.42,331.78 338.96,332.98 340.50,334.10 342.04,335.15 343.58,336.12 345.12,337.03 346.66,337.88 348.20,338.67 349.74,339.41 351.28,340.09 352.82,340.73 354.36,341.33 355.90,341.89 357.44,342.41 358.98,342.89 360.52,343.34 362.06,343.77 363.60,344.16 365.14,344.52 366.68,344.87 368.22,345.18 369.76,345.48 371.30,345.76 372.84,346.01 374.38,346.25 375.92,346.48 377.46,346.69 379.00,346.88 380.54,347.06 382.08,347.23 383.62,347.39 385.16,347.54 386.70,347.68 388.24,347.80 389.78,347.92 391.32,348.04 392.86,348.14 394.40,348.24 395.94,348.33 397.48,348.41 399.02,348.49 400.56,348.56 402.10,348.63 403.64,348.69 405.18,348.75 406.72,348.81 408.26,348.86 409.80,348.91 411.34,348.95 412.88,348.99 414.42,349.03 415.96,349.07 417.50,349.10 419.04,349.14 420.58,349.17 422.12,349.19 423.66,349.22 425.20,349.24 426.74,349.26 428.28,349.29 429.82,349.30 431.36,349.32 432.90,349.34 434.44,349.35 435.98,349.37 437.52,349.38 439.06,349.40 440.60,349.41 442.14,349.42 443.68,349.43 445.22,349.44 446.76,349.45 448.30,349.46 449.84,349.46 451.38,349.47 452.92,349.48 454.46,349.48 456.00,349.49 457.54,349.50 459.08,349.50 460.62,349.51 462.16,349.51 463.70,349.51 465.24,349.52 466.78,349.52 468.32,349.52 469.86,349.53 471.40,349.53 472.94,349.53 474.48,349.54 476.02,349.54 477.56,349.54 479.10,349.54 480.64,349.54 482.18,349.55 483.72,349.55 485.26,349.55 486.80,349.55" fill="none" stroke="#e2692a" stroke-width="1.9"/>
<polyline points="302.00,260.55 303.54,296.16 305.08,318.48 306.62,332.48 308.16,341.26 309.70,346.77 311.24,350.22 312.78,352.39 314.32,353.75 315.86,354.60 317.40,355.13 318.94,355.47 320.48,355.68 322.02,355.81 323.56,355.89 325.10,355.94 326.64,355.97 328.18,355.99 329.72,356.01 331.26,356.02 332.80,356.02 334.34,356.02 335.88,356.03 337.42,356.03 338.96,356.03 340.50,356.03 342.04,356.03 343.58,356.03 345.12,356.03 346.66,356.03 348.20,356.03 349.74,356.03 351.28,356.03 352.82,356.03 354.36,356.03 355.90,356.03 357.44,356.03 358.98,356.03 360.52,356.03 362.06,356.03 363.60,356.03 365.14,356.03 366.68,356.03 368.22,356.03 369.76,356.03 371.30,356.03 372.84,356.03 374.38,356.03 375.92,356.03 377.46,356.03 379.00,356.03 380.54,356.03 382.08,356.03 383.62,356.03 385.16,356.03 386.70,356.03 388.24,356.03 389.78,356.03 391.32,356.03 392.86,356.03 394.40,356.03 395.94,356.03 397.48,356.03 399.02,356.03 400.56,356.03 402.10,356.03 403.64,356.03 405.18,356.03 406.72,356.03 408.26,356.03 409.80,356.03 411.34,356.03 412.88,356.03 414.42,356.03 415.96,356.03 417.50,356.03 419.04,356.03 420.58,356.03 422.12,356.03 423.66,356.03 425.20,356.03 426.74,356.03 428.28,356.03 429.82,356.03 431.36,356.03 432.90,356.03 434.44,356.03 435.98,356.03 437.52,356.03 439.06,356.03 440.60,356.03 442.14,356.03 443.68,356.03 445.22,356.03 446.76,356.03 448.30,356.03 449.84,356.03 451.38,356.03 452.92,356.03 454.46,356.03 456.00,356.03 457.54,356.03 459.08,356.03 460.62,356.03 462.16,356.03 463.70,356.03 465.24,356.03 466.78,356.03 468.32,356.03 469.86,356.03 471.40,356.03 472.94,356.03 474.48,356.03 476.02,356.03 477.56,356.03 479.10,356.03 480.64,356.03 482.18,356.03 483.72,356.03 485.26,356.03 486.80,356.03" fill="none" stroke="#c9246c" stroke-width="1.9"/>
<line x1="302.3" y1="260.55" x2="302.3" y2="352.8" stroke="#1b6b1b" stroke-width="2.2"/>
<line x1="302.0" y1="352.8" x2="487.0" y2="352.8" stroke="#1b6b1b" stroke-width="2.2"/>
<path d="M305.3,355.9L306.6,353.6L304.0,353.6Z" fill="#1b6b1b"/>
<path d="M313.2,355.9L314.5,353.6L311.9,353.6Z" fill="#1b6b1b"/>
<path d="M321.1,355.9L322.4,353.6L319.8,353.6Z" fill="#1b6b1b"/>
<path d="M329.0,355.9L330.3,353.6L327.7,353.6Z" fill="#1b6b1b"/>
<path d="M336.9,355.9L338.2,353.6L335.6,353.6Z" fill="#1b6b1b"/>
<path d="M344.8,355.9L346.1,353.6L343.5,353.6Z" fill="#1b6b1b"/>
<path d="M352.7,355.9L354.0,353.6L351.4,353.6Z" fill="#1b6b1b"/>
<path d="M360.6,355.9L361.9,353.6L359.3,353.6Z" fill="#1b6b1b"/>
<path d="M368.5,355.9L369.8,353.6L367.2,353.6Z" fill="#1b6b1b"/>
<path d="M376.4,355.9L377.7,353.6L375.1,353.6Z" fill="#1b6b1b"/>
<path d="M384.3,355.9L385.6,353.6L383.0,353.6Z" fill="#1b6b1b"/>
<path d="M392.2,355.9L393.5,353.6L390.9,353.6Z" fill="#1b6b1b"/>
<path d="M400.1,355.9L401.4,353.6L398.8,353.6Z" fill="#1b6b1b"/>
<path d="M408.0,355.9L409.3,353.6L406.7,353.6Z" fill="#1b6b1b"/>
<path d="M415.9,355.9L417.2,353.6L414.6,353.6Z" fill="#1b6b1b"/>
<path d="M423.8,355.9L425.1,353.6L422.5,353.6Z" fill="#1b6b1b"/>
<path d="M431.7,355.9L433.0,353.6L430.4,353.6Z" fill="#1b6b1b"/>
<path d="M439.6,355.9L440.9,353.6L438.3,353.6Z" fill="#1b6b1b"/>
<path d="M447.5,355.9L448.8,353.6L446.2,353.6Z" fill="#1b6b1b"/>
<path d="M455.4,355.9L456.7,353.6L454.1,353.6Z" fill="#1b6b1b"/>
<path d="M463.3,355.9L464.6,353.6L462.0,353.6Z" fill="#1b6b1b"/>
<path d="M471.2,355.9L472.5,353.6L469.9,353.6Z" fill="#1b6b1b"/>
<path d="M479.1,355.9L480.4,353.6L477.8,353.6Z" fill="#1b6b1b"/>
<path d="M487.0,355.9L488.3,353.6L485.7,353.6Z" fill="#1b6b1b"/>
<circle cx="305.3" cy="321.9" r="2.90" fill="#e6196e"/>
<circle cx="313.2" cy="344.6" r="2.90" fill="#e6196e"/>
<circle cx="321.1" cy="359.3" r="2.90" fill="#e6196e"/>
<circle cx="329.0" cy="349.5" r="2.90" fill="#e6196e"/>
<circle cx="336.9" cy="364.3" r="2.90" fill="#e6196e"/>
<circle cx="344.8" cy="345.9" r="2.90" fill="#e6196e"/>
<circle cx="352.7" cy="360.7" r="2.90" fill="#e6196e"/>
<circle cx="368.5" cy="356.6" r="2.90" fill="#e6196e"/>
<circle cx="376.4" cy="368.1" r="2.90" fill="#e6196e"/>
<circle cx="384.3" cy="344.5" r="2.90" fill="#e6196e"/>
<circle cx="392.2" cy="349.9" r="2.90" fill="#e6196e"/>
<circle cx="408.0" cy="356.2" r="2.90" fill="#e6196e"/>
<circle cx="415.9" cy="358.6" r="2.90" fill="#e6196e"/>
<circle cx="423.8" cy="358.6" r="2.90" fill="#e6196e"/>
<circle cx="431.7" cy="358.6" r="2.90" fill="#e6196e"/>
<circle cx="439.6" cy="365.4" r="2.90" fill="#e6196e"/>
<circle cx="447.5" cy="346.3" r="2.90" fill="#e6196e"/>
<circle cx="455.4" cy="364.0" r="2.90" fill="#e6196e"/>
<circle cx="463.3" cy="360.3" r="2.90" fill="#e6196e"/>
<circle cx="479.1" cy="364.7" r="2.90" fill="#e6196e"/>
<circle cx="487.0" cy="355.3" r="2.90" fill="#e6196e"/>
<path d="M321.1,296.6L324.2,291.0L318.0,291.0Z" fill="#1b6b1b"/>
<path d="M329.0,287.4L332.1,281.8L325.9,281.8Z" fill="#1b6b1b"/>
<path d="M336.9,295.1L340.0,289.5L333.8,289.5Z" fill="#1b6b1b"/>
<path d="M344.8,292.8L347.9,287.2L341.7,287.2Z" fill="#1b6b1b"/>
<path d="M352.7,277.1L355.8,271.5L349.6,271.5Z" fill="#1b6b1b"/>
<path d="M360.6,285.4L363.7,279.8L357.5,279.8Z" fill="#1b6b1b"/>
<path d="M368.5,301.5L371.6,295.9L365.4,295.9Z" fill="#1b6b1b"/>
<path d="M376.4,315.6L379.5,310.0L373.3,310.0Z" fill="#1b6b1b"/>
<path d="M384.3,297.8L387.4,292.2L381.2,292.2Z" fill="#1b6b1b"/>
<path d="M392.2,305.5L395.3,299.9L389.1,299.9Z" fill="#1b6b1b"/>
<path d="M400.1,313.6L403.2,308.0L397.0,308.0Z" fill="#1b6b1b"/>
<path d="M408.0,314.3L411.1,308.7L404.9,308.7Z" fill="#1b6b1b"/>
<path d="M415.9,311.6L419.0,306.0L412.8,306.0Z" fill="#1b6b1b"/>
<path d="M423.8,321.0L426.9,315.4L420.7,315.4Z" fill="#1b6b1b"/>
<path d="M431.7,318.3L434.8,312.7L428.6,312.7Z" fill="#1b6b1b"/>
<path d="M439.6,306.4L442.7,300.8L436.5,300.8Z" fill="#1b6b1b"/>
<path d="M447.5,294.8L450.6,289.2L444.4,289.2Z" fill="#1b6b1b"/>
<path d="M455.4,311.6L458.5,306.0L452.3,306.0Z" fill="#1b6b1b"/>
<path d="M463.3,314.5L466.4,308.9L460.2,308.9Z" fill="#1b6b1b"/>
<path d="M471.2,303.1L474.3,297.5L468.1,297.5Z" fill="#1b6b1b"/>
<path d="M479.1,307.5L482.2,301.9L476.0,301.9Z" fill="#1b6b1b"/>
<path d="M487.0,314.0L490.1,308.4L483.9,308.4Z" fill="#1b6b1b"/>
<path d="M305.3,247.6L308.4,250.7L305.3,253.8L302.2,250.7Z" fill="#1a1aa0"/>
<path d="M313.2,265.9L316.3,269.0L313.2,272.1L310.1,269.0Z" fill="#1a1aa0"/>
<path d="M321.1,272.6L324.2,275.7L321.1,278.8L318.0,275.7Z" fill="#1a1aa0"/>
<path d="M329.0,279.0L332.1,282.1L329.0,285.2L325.9,282.1Z" fill="#1a1aa0"/>
<path d="M336.9,277.2L340.0,280.3L336.9,283.4L333.8,280.3Z" fill="#1a1aa0"/>
<path d="M344.8,275.4L347.9,278.5L344.8,281.6L341.7,278.5Z" fill="#1a1aa0"/>
<path d="M352.7,260.4L355.8,263.5L352.7,266.6L349.6,263.5Z" fill="#1a1aa0"/>
<path d="M360.6,275.2L363.7,278.3L360.6,281.4L357.5,278.3Z" fill="#1a1aa0"/>
<path d="M368.5,269.8L371.6,272.9L368.5,276.0L365.4,272.9Z" fill="#1a1aa0"/>
<path d="M376.4,293.4L379.5,296.5L376.4,299.6L373.3,296.5Z" fill="#1a1aa0"/>
<path d="M384.3,273.5L387.4,276.6L384.3,279.7L381.2,276.6Z" fill="#1a1aa0"/>
<path d="M392.2,267.8L395.3,270.9L392.2,274.0L389.1,270.9Z" fill="#1a1aa0"/>
<path d="M400.1,285.3L403.2,288.4L400.1,291.5L397.0,288.4Z" fill="#1a1aa0"/>
<path d="M408.0,295.5L411.1,298.6L408.0,301.7L404.9,298.6Z" fill="#1a1aa0"/>
<path d="M415.9,294.9L419.0,298.0L415.9,301.1L412.8,298.0Z" fill="#1a1aa0"/>
<path d="M423.8,300.6L426.9,303.7L423.8,306.8L420.7,303.7Z" fill="#1a1aa0"/>
<path d="M431.7,287.3L434.8,290.4L431.7,293.5L428.6,290.4Z" fill="#1a1aa0"/>
<path d="M439.6,291.2L442.7,294.3L439.6,297.4L436.5,294.3Z" fill="#1a1aa0"/>
<path d="M447.5,281.6L450.6,284.7L447.5,287.8L444.4,284.7Z" fill="#1a1aa0"/>
<path d="M455.4,272.5L458.5,275.6L455.4,278.7L452.3,275.6Z" fill="#1a1aa0"/>
<path d="M463.3,261.0L466.4,264.1L463.3,267.2L460.2,264.1Z" fill="#1a1aa0"/>
<path d="M471.2,286.2L474.3,289.3L471.2,292.4L468.1,289.3Z" fill="#1a1aa0"/>
<path d="M479.1,297.1L482.2,300.2L479.1,303.3L476.0,300.2Z" fill="#1a1aa0"/>
<path d="M487.0,278.1L490.1,281.2L487.0,284.3L483.9,281.2Z" fill="#1a1aa0"/>
<path d="M313.2,281.6L316.3,287.2L310.1,287.2Z" fill="#8c8c1c"/>
<path d="M321.1,296.5L324.2,302.1L318.0,302.1Z" fill="#8c8c1c"/>
<path d="M329.0,302.7L332.1,308.3L325.9,308.3Z" fill="#8c8c1c"/>
<path d="M336.9,306.4L340.0,312.0L333.8,312.0Z" fill="#8c8c1c"/>
<path d="M344.8,309.4L347.9,315.0L341.7,315.0Z" fill="#8c8c1c"/>
<path d="M352.7,304.7L355.8,310.3L349.6,310.3Z" fill="#8c8c1c"/>
<path d="M360.6,312.1L363.7,317.7L357.5,317.7Z" fill="#8c8c1c"/>
<path d="M368.5,311.9L371.6,317.5L365.4,317.5Z" fill="#8c8c1c"/>
<path d="M376.4,334.7L379.5,340.3L373.3,340.3Z" fill="#8c8c1c"/>
<path d="M384.3,317.2L387.4,322.8L381.2,322.8Z" fill="#8c8c1c"/>
<path d="M392.2,318.1L395.3,323.7L389.1,323.7Z" fill="#8c8c1c"/>
<path d="M400.1,327.2L403.2,332.8L397.0,332.8Z" fill="#8c8c1c"/>
<path d="M408.0,343.4L411.1,349.0L404.9,349.0Z" fill="#8c8c1c"/>
<path d="M415.9,328.5L419.0,334.1L412.8,334.1Z" fill="#8c8c1c"/>
<path d="M423.8,337.4L426.9,343.0L420.7,343.0Z" fill="#8c8c1c"/>
<path d="M431.7,327.6L434.8,333.2L428.6,333.2Z" fill="#8c8c1c"/>
<path d="M439.6,333.9L442.7,339.5L436.5,339.5Z" fill="#8c8c1c"/>
<path d="M447.5,331.2L450.6,336.8L444.4,336.8Z" fill="#8c8c1c"/>
<path d="M455.4,331.6L458.5,337.2L452.3,337.2Z" fill="#8c8c1c"/>
<path d="M463.3,333.6L466.4,339.2L460.2,339.2Z" fill="#8c8c1c"/>
<path d="M471.2,335.8L474.3,341.4L468.1,341.4Z" fill="#8c8c1c"/>
<path d="M479.1,342.1L482.2,347.7L476.0,347.7Z" fill="#8c8c1c"/>
<path d="M487.0,336.3L490.1,341.9L483.9,341.9Z" fill="#8c8c1c"/>
<rect x="302.7" y="272.9" width="5.2" height="5.2" fill="#f26d1f"/>
<rect x="310.6" y="293.8" width="5.2" height="5.2" fill="#f26d1f"/>
<rect x="318.5" y="311.9" width="5.2" height="5.2" fill="#f26d1f"/>
<rect x="326.4" y="320.7" width="5.2" height="5.2" fill="#f26d1f"/>
<rect x="334.3" y="329.0" width="5.2" height="5.2" fill="#f26d1f"/>
<rect x="342.2" y="327.7" width="5.2" height="5.2" fill="#f26d1f"/>
<rect x="350.1" y="335.7" width="5.2" height="5.2" fill="#f26d1f"/>
<rect x="358.0" y="331.4" width="5.2" height="5.2" fill="#f26d1f"/>
<rect x="365.9" y="336.1" width="5.2" height="5.2" fill="#f26d1f"/>
<rect x="373.8" y="358.1" width="5.2" height="5.2" fill="#f26d1f"/>
<rect x="381.7" y="335.3" width="5.2" height="5.2" fill="#f26d1f"/>
<rect x="389.6" y="333.6" width="5.2" height="5.2" fill="#f26d1f"/>
<rect x="397.5" y="347.3" width="5.2" height="5.2" fill="#f26d1f"/>
<rect x="405.4" y="346.4" width="5.2" height="5.2" fill="#f26d1f"/>
<rect x="413.3" y="346.0" width="5.2" height="5.2" fill="#f26d1f"/>
<rect x="421.2" y="346.0" width="5.2" height="5.2" fill="#f26d1f"/>
<rect x="437.0" y="343.3" width="5.2" height="5.2" fill="#f26d1f"/>
<rect x="444.9" y="346.6" width="5.2" height="5.2" fill="#f26d1f"/>
<rect x="452.8" y="348.0" width="5.2" height="5.2" fill="#f26d1f"/>
<rect x="460.7" y="347.3" width="5.2" height="5.2" fill="#f26d1f"/>
<rect x="468.6" y="339.9" width="5.2" height="5.2" fill="#f26d1f"/>
<rect x="476.5" y="358.7" width="5.2" height="5.2" fill="#f26d1f"/>
<rect x="484.4" y="347.3" width="5.2" height="5.2" fill="#f26d1f"/>
<line x1="302.0" y1="260.55" x2="305.3" y2="259.3" stroke="#9a9a1a" stroke-width="2"/>
<rect x="303.6" y="260.8" width="3.4" height="3.3" fill="#76760f"/>
<circle cx="305.3" cy="259.3" r="2.5" fill="#abab2a" stroke="#727210" stroke-width="0.9"/>
<line x1="305.3" y1="257.5" x2="305.3" y2="261.1" stroke="#86861a" stroke-width="0.8"/>
<rect x="311.5" y="260.8" width="3.4" height="3.3" fill="#76760f"/>
<circle cx="313.2" cy="259.3" r="2.5" fill="#abab2a" stroke="#727210" stroke-width="0.9"/>
<line x1="313.2" y1="257.5" x2="313.2" y2="261.1" stroke="#86861a" stroke-width="0.8"/>
<rect x="319.4" y="260.8" width="3.4" height="3.3" fill="#76760f"/>
<circle cx="321.1" cy="259.3" r="2.5" fill="#abab2a" stroke="#727210" stroke-width="0.9"/>
<line x1="321.1" y1="257.5" x2="321.1" y2="261.1" stroke="#86861a" stroke-width="0.8"/>
<rect x="327.3" y="260.8" width="3.4" height="3.3" fill="#76760f"/>
<circle cx="329.0" cy="259.3" r="2.5" fill="#abab2a" stroke="#727210" stroke-width="0.9"/>
<line x1="329.0" y1="257.5" x2="329.0" y2="261.1" stroke="#86861a" stroke-width="0.8"/>
<rect x="335.2" y="260.8" width="3.4" height="3.3" fill="#76760f"/>
<circle cx="336.9" cy="259.3" r="2.5" fill="#abab2a" stroke="#727210" stroke-width="0.9"/>
<line x1="336.90000000000003" y1="257.5" x2="336.90000000000003" y2="261.1" stroke="#86861a" stroke-width="0.8"/>
<rect x="343.1" y="260.8" width="3.4" height="3.3" fill="#76760f"/>
<circle cx="344.8" cy="259.3" r="2.5" fill="#abab2a" stroke="#727210" stroke-width="0.9"/>
<line x1="344.8" y1="257.5" x2="344.8" y2="261.1" stroke="#86861a" stroke-width="0.8"/>
<rect x="351.0" y="260.8" width="3.4" height="3.3" fill="#76760f"/>
<circle cx="352.7" cy="259.3" r="2.5" fill="#abab2a" stroke="#727210" stroke-width="0.9"/>
<line x1="352.70000000000005" y1="257.5" x2="352.70000000000005" y2="261.1" stroke="#86861a" stroke-width="0.8"/>
<rect x="358.9" y="260.8" width="3.4" height="3.3" fill="#76760f"/>
<circle cx="360.6" cy="259.3" r="2.5" fill="#abab2a" stroke="#727210" stroke-width="0.9"/>
<line x1="360.6" y1="257.5" x2="360.6" y2="261.1" stroke="#86861a" stroke-width="0.8"/>
<rect x="366.8" y="260.8" width="3.4" height="3.3" fill="#76760f"/>
<circle cx="368.5" cy="259.3" r="2.5" fill="#abab2a" stroke="#727210" stroke-width="0.9"/>
<line x1="368.5" y1="257.5" x2="368.5" y2="261.1" stroke="#86861a" stroke-width="0.8"/>
<rect x="374.7" y="260.8" width="3.4" height="3.3" fill="#76760f"/>
<circle cx="376.4" cy="259.3" r="2.5" fill="#abab2a" stroke="#727210" stroke-width="0.9"/>
<line x1="376.40000000000003" y1="257.5" x2="376.40000000000003" y2="261.1" stroke="#86861a" stroke-width="0.8"/>
<rect x="382.6" y="260.8" width="3.4" height="3.3" fill="#76760f"/>
<circle cx="384.3" cy="259.3" r="2.5" fill="#abab2a" stroke="#727210" stroke-width="0.9"/>
<line x1="384.3" y1="257.5" x2="384.3" y2="261.1" stroke="#86861a" stroke-width="0.8"/>
<rect x="390.5" y="260.8" width="3.4" height="3.3" fill="#76760f"/>
<circle cx="392.2" cy="259.3" r="2.5" fill="#abab2a" stroke="#727210" stroke-width="0.9"/>
<line x1="392.20000000000005" y1="257.5" x2="392.20000000000005" y2="261.1" stroke="#86861a" stroke-width="0.8"/>
<rect x="398.4" y="260.8" width="3.4" height="3.3" fill="#76760f"/>
<circle cx="400.1" cy="259.3" r="2.5" fill="#abab2a" stroke="#727210" stroke-width="0.9"/>
<line x1="400.1" y1="257.5" x2="400.1" y2="261.1" stroke="#86861a" stroke-width="0.8"/>
<rect x="406.3" y="260.8" width="3.4" height="3.3" fill="#76760f"/>
<circle cx="408.0" cy="259.3" r="2.5" fill="#abab2a" stroke="#727210" stroke-width="0.9"/>
<line x1="408.0" y1="257.5" x2="408.0" y2="261.1" stroke="#86861a" stroke-width="0.8"/>
<rect x="414.2" y="260.8" width="3.4" height="3.3" fill="#76760f"/>
<circle cx="415.9" cy="259.3" r="2.5" fill="#abab2a" stroke="#727210" stroke-width="0.9"/>
<line x1="415.90000000000003" y1="257.5" x2="415.90000000000003" y2="261.1" stroke="#86861a" stroke-width="0.8"/>
<rect x="422.1" y="260.8" width="3.4" height="3.3" fill="#76760f"/>
<circle cx="423.8" cy="259.3" r="2.5" fill="#abab2a" stroke="#727210" stroke-width="0.9"/>
<line x1="423.8" y1="257.5" x2="423.8" y2="261.1" stroke="#86861a" stroke-width="0.8"/>
<rect x="430.0" y="260.8" width="3.4" height="3.3" fill="#76760f"/>
<circle cx="431.7" cy="259.3" r="2.5" fill="#abab2a" stroke="#727210" stroke-width="0.9"/>
<line x1="431.70000000000005" y1="257.5" x2="431.70000000000005" y2="261.1" stroke="#86861a" stroke-width="0.8"/>
<rect x="437.9" y="260.8" width="3.4" height="3.3" fill="#76760f"/>
<circle cx="439.6" cy="259.3" r="2.5" fill="#abab2a" stroke="#727210" stroke-width="0.9"/>
<line x1="439.6" y1="257.5" x2="439.6" y2="261.1" stroke="#86861a" stroke-width="0.8"/>
<rect x="445.8" y="260.8" width="3.4" height="3.3" fill="#76760f"/>
<circle cx="447.5" cy="259.3" r="2.5" fill="#abab2a" stroke="#727210" stroke-width="0.9"/>
<line x1="447.5" y1="257.5" x2="447.5" y2="261.1" stroke="#86861a" stroke-width="0.8"/>
<rect x="453.7" y="260.8" width="3.4" height="3.3" fill="#76760f"/>
<circle cx="455.4" cy="259.3" r="2.5" fill="#abab2a" stroke="#727210" stroke-width="0.9"/>
<line x1="455.4" y1="257.5" x2="455.4" y2="261.1" stroke="#86861a" stroke-width="0.8"/>
<rect x="461.6" y="260.8" width="3.4" height="3.3" fill="#76760f"/>
<circle cx="463.3" cy="259.3" r="2.5" fill="#abab2a" stroke="#727210" stroke-width="0.9"/>
<line x1="463.3" y1="257.5" x2="463.3" y2="261.1" stroke="#86861a" stroke-width="0.8"/>
<rect x="469.5" y="260.8" width="3.4" height="3.3" fill="#76760f"/>
<circle cx="471.2" cy="259.3" r="2.5" fill="#abab2a" stroke="#727210" stroke-width="0.9"/>
<line x1="471.20000000000005" y1="257.5" x2="471.20000000000005" y2="261.1" stroke="#86861a" stroke-width="0.8"/>
<rect x="477.4" y="260.8" width="3.4" height="3.3" fill="#76760f"/>
<circle cx="479.1" cy="259.3" r="2.5" fill="#abab2a" stroke="#727210" stroke-width="0.9"/>
<line x1="479.1" y1="257.5" x2="479.1" y2="261.1" stroke="#86861a" stroke-width="0.8"/>
<rect x="485.3" y="260.8" width="3.4" height="3.3" fill="#76760f"/>
<circle cx="487.0" cy="259.3" r="2.5" fill="#abab2a" stroke="#727210" stroke-width="0.9"/>
<line x1="487.0" y1="257.5" x2="487.0" y2="261.1" stroke="#86861a" stroke-width="0.8"/>
<text x="296" y="247.20000000000002" font-size="13.0" font-weight="bold" text-anchor="end" textLength="20.5" lengthAdjust="spacing" fill="#111" stroke="#111" stroke-width="0.15">1.2</text>
<text x="296" y="284.1" font-size="13.0" font-weight="bold" text-anchor="end" textLength="20.5" lengthAdjust="spacing" fill="#111" stroke="#111" stroke-width="0.15">0.8</text>
<text x="296" y="321.00000000000006" font-size="13.0" font-weight="bold" text-anchor="end" textLength="20.5" lengthAdjust="spacing" fill="#111" stroke="#111" stroke-width="0.15">0.4</text>
<text x="296" y="357.90000000000003" font-size="13.0" font-weight="bold" text-anchor="end" textLength="20.5" lengthAdjust="spacing" fill="#111" stroke="#111" stroke-width="0.15">0.0</text>
<text x="354.8" y="372.0" font-size="14" font-weight="bold" text-anchor="middle" textLength="16.4" lengthAdjust="spacing" fill="#111" stroke="#111" stroke-width="0.15">20</text>
<text x="407.6" y="372.0" font-size="14" font-weight="bold" text-anchor="middle" textLength="16.4" lengthAdjust="spacing" fill="#111" stroke="#111" stroke-width="0.15">40</text>
<text x="460.4" y="372.0" font-size="14" font-weight="bold" text-anchor="middle" textLength="16.4" lengthAdjust="spacing" fill="#111" stroke="#111" stroke-width="0.15">60</text>
<text x="513.2" y="372.0" font-size="14" font-weight="bold" text-anchor="middle" textLength="16.4" lengthAdjust="spacing" fill="#111" stroke="#111" stroke-width="0.15">80</text>
<text x="412.5" y="389.8" font-size="17.8" font-weight="bold" text-anchor="middle" fill="#111" stroke="#111" stroke-width="0.15">Time (min.)</text>
<line x1="52.0" y1="399.4100000000001" x2="52.0" y2="535.2" stroke="#000" stroke-width="2.2"/>
<line x1="51.5" y1="531.7" x2="255.5" y2="531.7" stroke="#000" stroke-width="2.2"/>
<line x1="47.0" y1="531.7" x2="52.0" y2="531.7" stroke="#000" stroke-width="2"/>
<text x="46.5" y="536.8000000000001" font-size="13.0" font-weight="bold" text-anchor="end" textLength="20.5" lengthAdjust="spacing" fill="#111" stroke="#111" stroke-width="0.15">0.0</text>
<line x1="47.0" y1="487.77000000000004" x2="52.0" y2="487.77000000000004" stroke="#000" stroke-width="2"/>
<text x="46.5" y="492.87000000000006" font-size="13.0" font-weight="bold" text-anchor="end" textLength="20.5" lengthAdjust="spacing" fill="#111" stroke="#111" stroke-width="0.15">0.1</text>
<line x1="47.0" y1="443.84000000000003" x2="52.0" y2="443.84000000000003" stroke="#000" stroke-width="2"/>
<text x="46.5" y="448.94000000000005" font-size="13.0" font-weight="bold" text-anchor="end" textLength="20.5" lengthAdjust="spacing" fill="#111" stroke="#111" stroke-width="0.15">0.2</text>
<line x1="47.0" y1="399.9100000000001" x2="52.0" y2="399.9100000000001" stroke="#000" stroke-width="2"/>
<text x="46.5" y="405.0100000000001" font-size="13.0" font-weight="bold" text-anchor="end" textLength="20.5" lengthAdjust="spacing" fill="#111" stroke="#111" stroke-width="0.15">0.3</text>
<line x1="52.0" y1="531.7" x2="52.0" y2="535.7" stroke="#000" stroke-width="2"/>
<text x="52.8" y="550.8" font-size="14" font-weight="bold" text-anchor="middle" fill="#111" stroke="#111" stroke-width="0.15">0</text>
<line x1="119.75" y1="531.7" x2="119.75" y2="535.7" stroke="#000" stroke-width="2"/>
<text x="119.95" y="550.8" font-size="14" font-weight="bold" text-anchor="middle" fill="#111" stroke="#111" stroke-width="0.15">500</text>
<line x1="187.5" y1="531.7" x2="187.5" y2="535.7" stroke="#000" stroke-width="2"/>
<text x="186.7" y="550.8" font-size="14" font-weight="bold" text-anchor="middle" fill="#111" stroke="#111" stroke-width="0.15">1,000</text>
<line x1="255.25" y1="531.7" x2="255.25" y2="535.7" stroke="#000" stroke-width="2"/>
<text x="252.75" y="550.8" font-size="14" font-weight="bold" text-anchor="middle" fill="#111" stroke="#111" stroke-width="0.15">1,500</text>
<line x1="58.9" y1="523.5" x2="214.3" y2="425.7" stroke="#d6236f" stroke-width="2.1"/>
<circle cx="58.9" cy="514.3" r="3.4" fill="#e6196e"/>
<circle cx="65.8" cy="515" r="3.4" fill="#e6196e"/>
<circle cx="79.7" cy="513.4" r="3.4" fill="#e6196e"/>
<circle cx="93.1" cy="505.1" r="3.4" fill="#e6196e"/>
<circle cx="106.5" cy="498.2" r="3.4" fill="#e6196e"/>
<circle cx="119.6" cy="485" r="3.4" fill="#e6196e"/>
<circle cx="133.5" cy="481.1" r="3.4" fill="#e6196e"/>
<circle cx="160.3" cy="469.5" r="3.4" fill="#e6196e"/>
<circle cx="213.8" cy="415.1" r="3.4" fill="#e6196e"/>
<text x="162.6" y="569.3" font-size="17.8" font-weight="bold" text-anchor="middle" fill="#111" stroke="#111" stroke-width="0.15">[BGB-5777] <tspan font-size="16.2">(nmol/L)</tspan></text>
<text transform="translate(16.2,480) rotate(-90)" font-size="20.5" font-weight="bold" fill="#111">K<tspan font-size="12.2" dy="4.5">obs.</tspan></text>
<line x1="302.0" y1="399.37999999999994" x2="302.0" y2="535.3" stroke="#000" stroke-width="2.2"/>
<line x1="301.5" y1="531.8" x2="497.8" y2="531.8" stroke="#000" stroke-width="2.2"/>
<line x1="297.0" y1="531.8" x2="302.0" y2="531.8" stroke="#000" stroke-width="2"/>
<text x="296.5" y="536.9" font-size="13.0" font-weight="bold" text-anchor="end" textLength="20.5" lengthAdjust="spacing" fill="#111" stroke="#111" stroke-width="0.15">0.0</text>
<line x1="297.0" y1="498.81999999999994" x2="302.0" y2="498.81999999999994" stroke="#000" stroke-width="2"/>
<text x="296.5" y="503.91999999999996" font-size="13.0" font-weight="bold" text-anchor="end" textLength="20.5" lengthAdjust="spacing" fill="#111" stroke="#111" stroke-width="0.15">0.2</text>
<line x1="297.0" y1="465.8399999999999" x2="302.0" y2="465.8399999999999" stroke="#000" stroke-width="2"/>
<text x="296.5" y="470.93999999999994" font-size="13.0" font-weight="bold" text-anchor="end" textLength="20.5" lengthAdjust="spacing" fill="#111" stroke="#111" stroke-width="0.15">0.4</text>
<line x1="297.0" y1="432.85999999999996" x2="302.0" y2="432.85999999999996" stroke="#000" stroke-width="2"/>
<text x="296.5" y="437.96" font-size="13.0" font-weight="bold" text-anchor="end" textLength="20.5" lengthAdjust="spacing" fill="#111" stroke="#111" stroke-width="0.15">0.6</text>
<line x1="297.0" y1="399.87999999999994" x2="302.0" y2="399.87999999999994" stroke="#000" stroke-width="2"/>
<text x="296.5" y="404.97999999999996" font-size="13.0" font-weight="bold" text-anchor="end" textLength="20.5" lengthAdjust="spacing" fill="#111" stroke="#111" stroke-width="0.15">0.8</text>
<line x1="302.0" y1="531.8" x2="302.0" y2="535.8" stroke="#000" stroke-width="2"/>
<text x="302.5" y="550.8" font-size="14" font-weight="bold" text-anchor="middle" fill="#111" stroke="#111" stroke-width="0.15">0</text>
<line x1="367.25" y1="531.8" x2="367.25" y2="535.8" stroke="#000" stroke-width="2"/>
<text x="367.55" y="550.8" font-size="14" font-weight="bold" text-anchor="middle" fill="#111" stroke="#111" stroke-width="0.15">200</text>
<line x1="432.5" y1="531.8" x2="432.5" y2="535.8" stroke="#000" stroke-width="2"/>
<text x="431.9" y="550.8" font-size="14" font-weight="bold" text-anchor="middle" fill="#111" stroke="#111" stroke-width="0.15">400</text>
<line x1="497.75" y1="531.8" x2="497.75" y2="535.8" stroke="#000" stroke-width="2"/>
<text x="497.45" y="550.8" font-size="14" font-weight="bold" text-anchor="middle" fill="#111" stroke="#111" stroke-width="0.15">600</text>
<line x1="306.3" y1="526" x2="464.5" y2="418.5" stroke="#d6236f" stroke-width="2.1"/>
<circle cx="306.5" cy="521.7" r="3.4" fill="#e6196e"/>
<circle cx="310.6" cy="523.1" r="3.4" fill="#e6196e"/>
<circle cx="318.7" cy="521.7" r="3.4" fill="#e6196e"/>
<circle cx="334.6" cy="513.7" r="3.4" fill="#e6196e"/>
<circle cx="350.8" cy="500.4" r="3.4" fill="#e6196e"/>
<circle cx="367.1" cy="481.5" r="3.4" fill="#e6196e"/>
<circle cx="383.2" cy="465.2" r="3.4" fill="#e6196e"/>
<circle cx="399.5" cy="463.1" r="3.4" fill="#e6196e"/>
<circle cx="463.9" cy="419.1" r="3.4" fill="#e6196e"/>
<text x="411.2" y="569.8" font-size="17.8" font-weight="bold" text-anchor="middle" fill="#111" stroke="#111" stroke-width="0.15">[INCB024360] <tspan font-size="16.2">(nmol/L)</tspan></text>
<text x="8.0" y="623.0" font-size="17.4" font-weight="bold" fill="#111" stroke="#111" stroke-width="0.15">C</text>
<text transform="translate(98.5,616.3) scale(1.08,1)" font-size="16" font-weight="bold" text-anchor="middle" fill="#111" stroke="#111" stroke-width="0.15">Time</text>
<text transform="translate(97.5,635.3) scale(1.08,1)" font-size="16" font-weight="bold" text-anchor="middle" fill="#111" stroke="#111" stroke-width="0.15">point</text>
<text transform="translate(198.6,615.5) scale(1.08,1)" font-size="16" font-weight="bold" text-anchor="middle" fill="#111" stroke="#111" stroke-width="0.15">Brain</text>
<text transform="translate(198.3,636.2) scale(1.08,1)" font-size="16" font-weight="bold" text-anchor="middle" fill="#111" stroke="#111" stroke-width="0.15">(µmol/kg)</text>
<text transform="translate(317.6,615.6) scale(1.08,1)" font-size="16" font-weight="bold" text-anchor="middle" fill="#111" stroke="#111" stroke-width="0.15">Plasma</text>
<text transform="translate(317.0,637.2) scale(1.08,1)" font-size="15.2" font-weight="bold" text-anchor="middle" fill="#111" stroke="#111" stroke-width="0.15">(<tspan font-weight="normal">µ</tspan>mol/L)</text>
<text transform="translate(441.9,614.9) scale(1.08,1)" font-size="16" font-weight="bold" text-anchor="middle" fill="#111" stroke="#111" stroke-width="0.15">Brain/plasma</text>
<text transform="translate(443.5,635.3) scale(1.08,1)" font-size="16" font-weight="bold" text-anchor="middle" fill="#111" stroke="#111" stroke-width="0.15">ratio</text>
<line x1="57" y1="642" x2="510.5" y2="642" stroke="#222" stroke-width="2"/>
<text transform="translate(30.5,699.6) rotate(-90)" font-size="17.8" font-weight="bold" fill="#111" stroke="#111" stroke-width="0.15">BGB-</text>
<text transform="translate(52.2,700.6) rotate(-90)" font-size="17.4" font-weight="bold" fill="#111" stroke="#111" stroke-width="0.15">5777</text>
<text transform="translate(30.4,742.6) rotate(-90)" font-size="17.9" font-weight="bold" text-anchor="middle" fill="#111" stroke="#111" stroke-width="0.15">INCB</text>
<text transform="translate(52.2,742.6) rotate(-90)" font-size="17.8" font-weight="bold" text-anchor="middle" fill="#111" stroke="#111" stroke-width="0.15">024360</text>
<line x1="58.1" y1="648.7" x2="58.1" y2="710.8" stroke="#1a1a1a" stroke-width="1.9"/>
<line x1="58.1" y1="721.4" x2="58.1" y2="765" stroke="#1a1a1a" stroke-width="1.9"/>
<line x1="79" y1="716.8" x2="495" y2="716.8" stroke="#9a9a9a" stroke-width="1.4"/>
<line x1="134.5" y1="648.5" x2="134.5" y2="709.5" stroke="#8c8c8c" stroke-width="1.1"/>
<line x1="134.5" y1="724" x2="134.5" y2="759.8" stroke="#8c8c8c" stroke-width="1.1"/>
<line x1="255.5" y1="648.5" x2="255.5" y2="709.5" stroke="#8c8c8c" stroke-width="1.1"/>
<line x1="255.5" y1="724" x2="255.5" y2="759.8" stroke="#8c8c8c" stroke-width="1.1"/>
<line x1="379.5" y1="648.5" x2="379.5" y2="709.5" stroke="#8c8c8c" stroke-width="1.1"/>
<line x1="379.5" y1="724" x2="379.5" y2="759.8" stroke="#8c8c8c" stroke-width="1.1"/>
<text transform="translate(98.5,660.7) scale(1.12,1)" font-size="16" text-anchor="middle" fill="#111" stroke="#111" stroke-width="0.3">1 h</text>
<text transform="translate(198,660.7) scale(1.1,1)" font-size="16" text-anchor="middle" fill="#111" stroke="#111" stroke-width="0.3">2.89<tspan font-family="DejaVu Sans Condensed, DejaVu Sans, sans-serif" font-stretch="condensed" font-size="20.5" dx="1.0" dy="-0.6" stroke="#fff" stroke-width="0.55">±</tspan><tspan dx="0.1" dy="0.6">0.62</tspan></text>
<text transform="translate(317,660.7) scale(1.1,1)" font-size="16" text-anchor="middle" fill="#111" stroke="#111" stroke-width="0.3">2.26<tspan font-family="DejaVu Sans Condensed, DejaVu Sans, sans-serif" font-stretch="condensed" font-size="20.5" dx="1.0" dy="-0.6" stroke="#fff" stroke-width="0.55">±</tspan><tspan dx="0.1" dy="0.6">0.91</tspan></text>
<text transform="translate(443.6,660.7) scale(1.1,1)" font-size="16" text-anchor="middle" fill="#111" stroke="#111" stroke-width="0.3">1.39<tspan font-family="DejaVu Sans Condensed, DejaVu Sans, sans-serif" font-stretch="condensed" font-size="20.5" dx="1.0" dy="-0.6" stroke="#fff" stroke-width="0.55">±</tspan><tspan dx="0.1" dy="0.6">0.27</tspan></text>
<text transform="translate(98.5,686.1) scale(1.12,1)" font-size="16" text-anchor="middle" fill="#111" stroke="#111" stroke-width="0.3">2 h</text>
<text transform="translate(198,686.1) scale(1.1,1)" font-size="16" text-anchor="middle" fill="#111" stroke="#111" stroke-width="0.3">0.32<tspan font-family="DejaVu Sans Condensed, DejaVu Sans, sans-serif" font-stretch="condensed" font-size="20.5" dx="1.0" dy="-0.6" stroke="#fff" stroke-width="0.55">±</tspan><tspan dx="0.1" dy="0.6">0.07</tspan></text>
<text transform="translate(317,686.1) scale(1.1,1)" font-size="16" text-anchor="middle" fill="#111" stroke="#111" stroke-width="0.3">0.24<tspan font-family="DejaVu Sans Condensed, DejaVu Sans, sans-serif" font-stretch="condensed" font-size="20.5" dx="1.0" dy="-0.6" stroke="#fff" stroke-width="0.55">±</tspan><tspan dx="0.1" dy="0.6">0.07</tspan></text>
<text transform="translate(443.6,686.1) scale(1.1,1)" font-size="16" text-anchor="middle" fill="#111" stroke="#111" stroke-width="0.3">1.39<tspan font-family="DejaVu Sans Condensed, DejaVu Sans, sans-serif" font-stretch="condensed" font-size="20.5" dx="1.0" dy="-0.6" stroke="#fff" stroke-width="0.55">±</tspan><tspan dx="0.1" dy="0.6">0.46</tspan></text>
<text transform="translate(98.5,710.8) scale(1.12,1)" font-size="16" text-anchor="middle" fill="#111" stroke="#111" stroke-width="0.3">4 h</text>
<text transform="translate(198,710.8) scale(1.1,1)" font-size="16" text-anchor="middle" fill="#111" stroke="#111" stroke-width="0.3">0.06<tspan font-family="DejaVu Sans Condensed, DejaVu Sans, sans-serif" font-stretch="condensed" font-size="20.5" dx="1.0" dy="-0.6" stroke="#fff" stroke-width="0.55">±</tspan><tspan dx="0.1" dy="0.6">0.01</tspan></text>
<text transform="translate(317,710.8) scale(1.1,1)" font-size="16" text-anchor="middle" fill="#111" stroke="#111" stroke-width="0.3">0.05<tspan font-family="DejaVu Sans Condensed, DejaVu Sans, sans-serif" font-stretch="condensed" font-size="20.5" dx="1.0" dy="-0.6" stroke="#fff" stroke-width="0.55">±</tspan><tspan dx="0.1" dy="0.6">0.03</tspan></text>
<text transform="translate(443.6,710.8) scale(1.1,1)" font-size="16" text-anchor="middle" fill="#111" stroke="#111" stroke-width="0.3">2.08<tspan font-family="DejaVu Sans Condensed, DejaVu Sans, sans-serif" font-stretch="condensed" font-size="20.5" dx="1.0" dy="-0.6" stroke="#fff" stroke-width="0.55">±</tspan><tspan dx="0.1" dy="0.6">1.83</tspan></text>
<text transform="translate(98.5,736.2) scale(1.12,1)" font-size="16" text-anchor="middle" fill="#111" stroke="#111" stroke-width="0.3">1 h</text>
<text transform="translate(198,736.2) scale(1.1,1)" font-size="16" text-anchor="middle" fill="#111" stroke="#111" stroke-width="0.3">3.22<tspan font-family="DejaVu Sans Condensed, DejaVu Sans, sans-serif" font-stretch="condensed" font-size="20.5" dx="1.0" dy="-0.6" stroke="#fff" stroke-width="0.55">±</tspan><tspan dx="0.1" dy="0.6">2.27</tspan></text>
<text transform="translate(317,736.2) scale(1.1,1)" font-size="16" text-anchor="middle" fill="#111" stroke="#111" stroke-width="0.3">29.33<tspan font-family="DejaVu Sans Condensed, DejaVu Sans, sans-serif" font-stretch="condensed" font-size="20.5" dx="1.0" dy="-0.6" stroke="#fff" stroke-width="0.55">±</tspan><tspan dx="0.1" dy="0.6">19.13</tspan></text>
<text transform="translate(443.6,736.2) scale(1.1,1)" font-size="16" text-anchor="middle" fill="#111" stroke="#111" stroke-width="0.3">0.17<tspan font-family="DejaVu Sans Condensed, DejaVu Sans, sans-serif" font-stretch="condensed" font-size="20.5" dx="1.0" dy="-0.6" stroke="#fff" stroke-width="0.55">±</tspan><tspan dx="0.1" dy="0.6">0.15</tspan></text>
<text transform="translate(98.5,760.5) scale(1.12,1)" font-size="16" text-anchor="middle" fill="#111" stroke="#111" stroke-width="0.3">2 h</text>
<text transform="translate(198,760.5) scale(1.1,1)" font-size="16" text-anchor="middle" fill="#111" stroke="#111" stroke-width="0.3">4.30<tspan font-family="DejaVu Sans Condensed, DejaVu Sans, sans-serif" font-stretch="condensed" font-size="20.5" dx="1.0" dy="-0.6" stroke="#fff" stroke-width="0.55">±</tspan><tspan dx="0.1" dy="0.6">.46</tspan></text>
<text transform="translate(317,760.5) scale(1.1,1)" font-size="16" text-anchor="middle" fill="#111" stroke="#111" stroke-width="0.3">4.96<tspan font-family="DejaVu Sans Condensed, DejaVu Sans, sans-serif" font-stretch="condensed" font-size="20.5" dx="1.0" dy="-0.6" stroke="#fff" stroke-width="0.55">±</tspan><tspan dx="0.1" dy="0.6">0.48</tspan></text>
<text transform="translate(443.6,760.5) scale(1.1,1)" font-size="16" text-anchor="middle" fill="#111" stroke="#111" stroke-width="0.3">0.87<tspan font-family="DejaVu Sans Condensed, DejaVu Sans, sans-serif" font-stretch="condensed" font-size="20.5" dx="1.0" dy="-0.6" stroke="#fff" stroke-width="0.55">±</tspan><tspan dx="0.1" dy="0.6">0.01</tspan></text>
</svg>
</body></html>
